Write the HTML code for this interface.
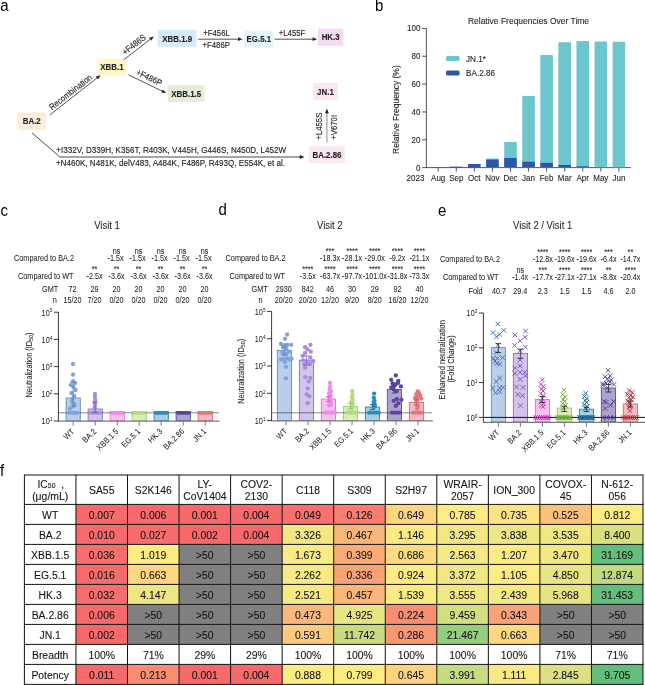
<!DOCTYPE html>
<html><head><meta charset="utf-8"><title>Figure</title>
<style>html,body{margin:0;padding:0;background:#fff;}svg{display:block;}</style></head>
<body><svg width="645" height="685" viewBox="0 0 645 685" font-family='"Liberation Sans", Arial, sans-serif'>
<rect width="645" height="685" fill="#fff"/>
<text transform="translate(0.30,10.80) scale(1,1.06)" font-size="15" fill="#000">a</text>
<text transform="translate(375.00,10.80) scale(1,1.06)" font-size="15" fill="#000">b</text>
<text transform="translate(0.40,215.50) scale(1,1.06)" font-size="15" fill="#000">c</text>
<text transform="translate(218.60,215.30) scale(1,1.06)" font-size="15" fill="#000">d</text>
<text transform="translate(438.00,215.60) scale(1,1.06)" font-size="15" fill="#000">e</text>
<text transform="translate(0.00,475.60) scale(1,1.06)" font-size="15" fill="#000">f</text>
<rect x="17.50" y="112.50" width="28.50" height="17.30" fill="#FDEEDB"/>
<text transform="translate(31.75,123.90) scale(1,1.12)" font-size="7.9" text-anchor="middle" font-weight="bold" fill="#231f20" stroke="#231f20" stroke-width="0.12">BA.2</text>
<rect x="97.80" y="58.90" width="28.20" height="16.70" fill="#FFF8C4"/>
<text transform="translate(111.90,69.80) scale(1,1.12)" font-size="7.9" text-anchor="middle" font-weight="bold" fill="#231f20" stroke="#231f20" stroke-width="0.12">XBB.1</text>
<rect x="157.90" y="29.80" width="38.60" height="17.10" fill="#D7EAF8"/>
<text transform="translate(177.20,42.00) scale(1,1.12)" font-size="7.9" text-anchor="middle" font-weight="bold" fill="#231f20" stroke="#231f20" stroke-width="0.12">XBB.1.9</text>
<rect x="167.90" y="85.10" width="36.60" height="16.80" fill="#E2EFD6"/>
<text transform="translate(186.20,96.90) scale(1,1.12)" font-size="7.9" text-anchor="middle" font-weight="bold" fill="#231f20" stroke="#231f20" stroke-width="0.12">XBB.1.5</text>
<rect x="244.10" y="30.80" width="29.50" height="16.70" fill="#E7F3FB"/>
<text transform="translate(258.85,42.00) scale(1,1.12)" font-size="7.9" text-anchor="middle" font-weight="bold" fill="#231f20" stroke="#231f20" stroke-width="0.12">EG.5.1</text>
<rect x="318.00" y="28.60" width="25.30" height="17.00" fill="#F4DAF4"/>
<text transform="translate(330.65,40.00) scale(1,1.12)" font-size="7.9" text-anchor="middle" font-weight="bold" fill="#231f20" stroke="#231f20" stroke-width="0.12">HK.3</text>
<rect x="312.80" y="82.90" width="25.30" height="17.00" fill="#FCE6F2"/>
<text transform="translate(325.45,94.50) scale(1,1.12)" font-size="7.9" text-anchor="middle" font-weight="bold" fill="#231f20" stroke="#231f20" stroke-width="0.12">JN.1</text>
<rect x="309.10" y="146.20" width="35.80" height="17.00" fill="#FCE6F2"/>
<text transform="translate(327.00,157.90) scale(1,1.12)" font-size="7.9" text-anchor="middle" font-weight="bold" fill="#231f20" stroke="#231f20" stroke-width="0.12">BA.2.86</text>
<line x1="49.90" y1="114.90" x2="97.27" y2="77.73" stroke="#2a2727" stroke-width="0.8"/>
<polygon points="100.50,75.20 98.05,79.53 95.71,76.54" fill="#2a2727"/>
<line x1="124.10" y1="59.60" x2="150.57" y2="38.92" stroke="#2a2727" stroke-width="0.8"/>
<polygon points="153.80,36.40 151.34,40.73 149.01,37.73" fill="#2a2727"/>
<line x1="128.60" y1="74.90" x2="162.51" y2="91.31" stroke="#2a2727" stroke-width="0.8"/>
<polygon points="166.20,93.10 161.23,92.81 162.89,89.39" fill="#2a2727"/>
<line x1="198.20" y1="39.20" x2="238.50" y2="39.20" stroke="#2a2727" stroke-width="0.8"/>
<polygon points="242.60,39.20 238.00,41.10 238.00,37.30" fill="#2a2727"/>
<line x1="274.50" y1="39.20" x2="313.10" y2="39.20" stroke="#2a2727" stroke-width="0.8"/>
<polygon points="317.20,39.20 312.60,41.10 312.60,37.30" fill="#2a2727"/>
<line x1="326.90" y1="142.50" x2="326.90" y2="112.00" stroke="#7a7a7a" stroke-width="0.9"/>
<line x1="326.90" y1="113.50" x2="326.90" y2="112.70" stroke="#222" stroke-width="0.8"/>
<polygon points="326.90,108.60 328.80,113.20 325.00,113.20" fill="#222"/>
<polyline points="32.1,132.9 59.9,157.0 300,157.0" fill="none" stroke="#2a2727" stroke-width="0.85"/>
<line x1="299.00" y1="157.00" x2="300.40" y2="157.00" stroke="#2a2727" stroke-width="0.8"/>
<polygon points="304.50,157.00 299.90,158.90 299.90,155.10" fill="#2a2727"/>
<text transform="translate(72.32,94.51) rotate(-38.12) scale(1,1.12)" font-size="7.8" text-anchor="middle" fill="#1f1d1d" stroke="#1f1d1d" stroke-width="0.12">Recombination</text>
<text transform="translate(135.74,46.95) rotate(-37.99) scale(1,1.12)" font-size="7.8" text-anchor="middle" fill="#1f1d1d" stroke="#1f1d1d" stroke-width="0.12">+F486S</text>
<text transform="translate(147.84,80.21) rotate(25.83) scale(1,1.12)" font-size="7.8" text-anchor="middle" fill="#1f1d1d" stroke="#1f1d1d" stroke-width="0.12">+F486P</text>
<text transform="translate(216.50,35.80) scale(1,1.12)" font-size="7.8" text-anchor="middle" fill="#1f1d1d" stroke="#1f1d1d" stroke-width="0.12">+F456L</text>
<text transform="translate(216.20,48.20) scale(1,1.12)" font-size="7.8" text-anchor="middle" fill="#1f1d1d" stroke="#1f1d1d" stroke-width="0.12">+F486P</text>
<text transform="translate(292.00,35.80) scale(1,1.12)" font-size="7.8" text-anchor="middle" fill="#1f1d1d" stroke="#1f1d1d" stroke-width="0.12">+L455F</text>
<text transform="translate(322.10,126.20) rotate(-90.00) scale(1,1.12)" font-size="7.8" text-anchor="middle" fill="#1f1d1d" stroke="#1f1d1d" stroke-width="0.12">+L455S</text>
<text transform="translate(337.10,127.40) rotate(-90.00) scale(1,1.12)" font-size="7.8" text-anchor="middle" fill="#1f1d1d" stroke="#1f1d1d" stroke-width="0.12">+V670I</text>
<text transform="translate(56.30,152.90) scale(1,1.12)" font-size="8.1" fill="#1f1d1d" stroke="#1f1d1d" stroke-width="0.12">+I332V, D339H, K356T, R403K, V445H, G446S, N450D, L452W</text>
<text transform="translate(55.90,165.90) scale(1,1.12)" font-size="8.1" fill="#1f1d1d" stroke="#1f1d1d" stroke-width="0.12">+N460K, N481K, delV483, A484K, F486P, R493Q, E554K, et al.</text>
<text transform="translate(528.50,24.00) scale(1,1.08)" font-size="8.5" text-anchor="middle" fill="#231f20" stroke="#231f20" stroke-width="0.1">Relative Frequencies Over Time</text>
<line x1="426.40" y1="28.30" x2="426.40" y2="168.00" stroke="#444" stroke-width="0.9"/>
<line x1="422.20" y1="167.60" x2="426.40" y2="167.60" stroke="#444" stroke-width="0.9"/>
<text transform="translate(420.40,170.50) scale(1,1.08)" font-size="8.0" text-anchor="end" fill="#231f20" stroke="#231f20" stroke-width="0.1">0</text>
<line x1="422.20" y1="139.77" x2="426.40" y2="139.77" stroke="#444" stroke-width="0.9"/>
<text transform="translate(420.40,142.67) scale(1,1.08)" font-size="8.0" text-anchor="end" fill="#231f20" stroke="#231f20" stroke-width="0.1">20</text>
<line x1="422.20" y1="111.94" x2="426.40" y2="111.94" stroke="#444" stroke-width="0.9"/>
<text transform="translate(420.40,114.84) scale(1,1.08)" font-size="8.0" text-anchor="end" fill="#231f20" stroke="#231f20" stroke-width="0.1">40</text>
<line x1="422.20" y1="84.11" x2="426.40" y2="84.11" stroke="#444" stroke-width="0.9"/>
<text transform="translate(420.40,87.01) scale(1,1.08)" font-size="8.0" text-anchor="end" fill="#231f20" stroke="#231f20" stroke-width="0.1">60</text>
<line x1="422.20" y1="56.28" x2="426.40" y2="56.28" stroke="#444" stroke-width="0.9"/>
<text transform="translate(420.40,59.18) scale(1,1.08)" font-size="8.0" text-anchor="end" fill="#231f20" stroke="#231f20" stroke-width="0.1">80</text>
<line x1="422.20" y1="28.45" x2="426.40" y2="28.45" stroke="#444" stroke-width="0.9"/>
<text transform="translate(420.40,31.35) scale(1,1.08)" font-size="8.0" text-anchor="end" fill="#231f20" stroke="#231f20" stroke-width="0.1">100</text>
<line x1="426.00" y1="167.60" x2="630.80" y2="167.60" stroke="#444" stroke-width="0.9"/>
<line x1="438.20" y1="167.60" x2="438.20" y2="171.60" stroke="#444" stroke-width="0.9"/>
<text transform="translate(438.20,181.40) scale(1,1.08)" font-size="8.0" text-anchor="middle" fill="#231f20" stroke="#231f20" stroke-width="0.1">Aug</text>
<rect x="431.90" y="167.39" width="12.60" height="0.21" fill="#2F56A6"/>
<line x1="456.27" y1="167.60" x2="456.27" y2="171.60" stroke="#444" stroke-width="0.9"/>
<text transform="translate(456.27,181.40) scale(1,1.08)" font-size="8.0" text-anchor="middle" fill="#231f20" stroke="#231f20" stroke-width="0.1">Sep</text>
<rect x="449.97" y="166.63" width="12.60" height="0.97" fill="#2F56A6"/>
<line x1="474.34" y1="167.60" x2="474.34" y2="171.60" stroke="#444" stroke-width="0.9"/>
<text transform="translate(474.34,181.40) scale(1,1.08)" font-size="8.0" text-anchor="middle" fill="#231f20" stroke="#231f20" stroke-width="0.1">Oct</text>
<rect x="468.04" y="163.98" width="12.60" height="3.62" fill="#2F56A6"/>
<line x1="492.41" y1="167.60" x2="492.41" y2="171.60" stroke="#444" stroke-width="0.9"/>
<text transform="translate(492.41,181.40) scale(1,1.08)" font-size="8.0" text-anchor="middle" fill="#231f20" stroke="#231f20" stroke-width="0.1">Nov</text>
<path d="M486.11,167.60 V159.42 q0,-1 1,-1 H497.71 q1,0 1,1 V167.60 Z" fill="#6CC6CD"/>
<rect x="486.11" y="159.53" width="12.60" height="8.07" fill="#2F56A6"/>
<line x1="510.48" y1="167.60" x2="510.48" y2="171.60" stroke="#444" stroke-width="0.9"/>
<text transform="translate(510.48,181.40) scale(1,1.08)" font-size="8.0" text-anchor="middle" fill="#231f20" stroke="#231f20" stroke-width="0.1">Dec</text>
<path d="M504.18,167.60 V143.00 q0,-1 1,-1 H515.78 q1,0 1,1 V167.60 Z" fill="#6CC6CD"/>
<rect x="504.18" y="158.00" width="12.60" height="9.60" fill="#2F56A6"/>
<line x1="528.55" y1="167.60" x2="528.55" y2="171.60" stroke="#444" stroke-width="0.9"/>
<text transform="translate(528.55,181.40) scale(1,1.08)" font-size="8.0" text-anchor="middle" fill="#231f20" stroke="#231f20" stroke-width="0.1">Jan</text>
<path d="M522.25,167.60 V96.94 q0,-1 1,-1 H533.85 q1,0 1,1 V167.60 Z" fill="#6CC6CD"/>
<rect x="522.25" y="161.76" width="12.60" height="5.84" fill="#2F56A6"/>
<line x1="546.62" y1="167.60" x2="546.62" y2="171.60" stroke="#444" stroke-width="0.9"/>
<text transform="translate(546.62,181.40) scale(1,1.08)" font-size="8.0" text-anchor="middle" fill="#231f20" stroke="#231f20" stroke-width="0.1">Feb</text>
<path d="M540.32,167.60 V55.89 q0,-1 1,-1 H551.92 q1,0 1,1 V167.60 Z" fill="#6CC6CD"/>
<rect x="540.32" y="162.87" width="12.60" height="4.73" fill="#2F56A6"/>
<line x1="564.69" y1="167.60" x2="564.69" y2="171.60" stroke="#444" stroke-width="0.9"/>
<text transform="translate(564.69,181.40) scale(1,1.08)" font-size="8.0" text-anchor="middle" fill="#231f20" stroke="#231f20" stroke-width="0.1">Mar</text>
<path d="M558.39,167.60 V43.36 q0,-1 1,-1 H569.99 q1,0 1,1 V167.60 Z" fill="#6CC6CD"/>
<rect x="558.39" y="164.96" width="12.60" height="2.64" fill="#2F56A6"/>
<line x1="582.76" y1="167.60" x2="582.76" y2="171.60" stroke="#444" stroke-width="0.9"/>
<text transform="translate(582.76,181.40) scale(1,1.08)" font-size="8.0" text-anchor="middle" fill="#231f20" stroke="#231f20" stroke-width="0.1">Apr</text>
<path d="M576.46,167.60 V41.97 q0,-1 1,-1 H588.06 q1,0 1,1 V167.60 Z" fill="#6CC6CD"/>
<rect x="576.46" y="166.35" width="12.60" height="1.25" fill="#2F56A6"/>
<line x1="600.83" y1="167.60" x2="600.83" y2="171.60" stroke="#444" stroke-width="0.9"/>
<text transform="translate(600.83,181.40) scale(1,1.08)" font-size="8.0" text-anchor="middle" fill="#231f20" stroke="#231f20" stroke-width="0.1">May</text>
<path d="M594.53,167.60 V42.53 q0,-1 1,-1 H606.13 q1,0 1,1 V167.60 Z" fill="#6CC6CD"/>
<rect x="594.53" y="167.18" width="12.60" height="0.42" fill="#2F56A6"/>
<line x1="618.90" y1="167.60" x2="618.90" y2="171.60" stroke="#444" stroke-width="0.9"/>
<text transform="translate(618.90,181.40) scale(1,1.08)" font-size="8.0" text-anchor="middle" fill="#231f20" stroke="#231f20" stroke-width="0.1">Jun</text>
<path d="M612.60,167.60 V42.81 q0,-1 1,-1 H624.20 q1,0 1,1 V167.60 Z" fill="#6CC6CD"/>
<rect x="612.60" y="167.39" width="12.60" height="0.21" fill="#2F56A6"/>
<text transform="translate(415.50,181.40) scale(1,1.08)" font-size="8.0" text-anchor="middle" fill="#231f20" stroke="#231f20" stroke-width="0.1">2023</text>
<text transform="translate(398.60,109.60) rotate(-90.00) scale(1,1.08)" font-size="8.5" text-anchor="middle" fill="#231f20" stroke="#231f20" stroke-width="0.1">Relative Frequency (%)</text>
<rect x="446" y="56" width="13.6" height="5" rx="1.5" fill="#6CC6CD"/>
<rect x="446" y="70.6" width="13.6" height="4.8" rx="1.5" fill="#2F56A6"/>
<text transform="translate(466.00,61.90) scale(1,1.08)" font-size="8.2" fill="#231f20" stroke="#231f20" stroke-width="0.1">JN.1*</text>
<text transform="translate(466.00,76.20) scale(1,1.08)" font-size="8.2" fill="#231f20" stroke="#231f20" stroke-width="0.1">BA.2.86</text>
<text transform="translate(107.00,229.00) scale(1,1.06)" font-size="9.5" text-anchor="middle" fill="#1a1a1a" stroke="#1a1a1a" stroke-width="0.03">Visit 1</text>
<text transform="translate(14.00,260.70) scale(1,1.2)" font-size="7.3" fill="#1a1a1a" stroke="#1a1a1a" stroke-width="0.03">Compared to BA.2</text>
<text transform="translate(18.00,278.60) scale(1,1.2)" font-size="7.3" fill="#1a1a1a" stroke="#1a1a1a" stroke-width="0.03">Compared to WT</text>
<text transform="translate(58.20,291.90) scale(1,1.2)" font-size="7.3" text-anchor="end" fill="#1a1a1a" stroke="#1a1a1a" stroke-width="0.03">GMT</text>
<text transform="translate(56.80,302.50) scale(1,1.2)" font-size="7.3" text-anchor="end" fill="#1a1a1a" stroke="#1a1a1a" stroke-width="0.03">n</text>
<text transform="translate(116.60,253.70) scale(1,1.2)" font-size="7.2" text-anchor="middle" fill="#1a1a1a" stroke="#1a1a1a" stroke-width="0.03">ns</text>
<text transform="translate(138.60,253.70) scale(1,1.2)" font-size="7.2" text-anchor="middle" fill="#1a1a1a" stroke="#1a1a1a" stroke-width="0.03">ns</text>
<text transform="translate(160.60,253.70) scale(1,1.2)" font-size="7.2" text-anchor="middle" fill="#1a1a1a" stroke="#1a1a1a" stroke-width="0.03">ns</text>
<text transform="translate(182.60,253.70) scale(1,1.2)" font-size="7.2" text-anchor="middle" fill="#1a1a1a" stroke="#1a1a1a" stroke-width="0.03">ns</text>
<text transform="translate(204.60,253.70) scale(1,1.2)" font-size="7.2" text-anchor="middle" fill="#1a1a1a" stroke="#1a1a1a" stroke-width="0.03">ns</text>
<text transform="translate(115.50,260.70) scale(1,1.2)" font-size="7.2" text-anchor="middle" fill="#1a1a1a" stroke="#1a1a1a" stroke-width="0.03">-1.5x</text>
<text transform="translate(137.50,260.70) scale(1,1.2)" font-size="7.2" text-anchor="middle" fill="#1a1a1a" stroke="#1a1a1a" stroke-width="0.03">-1.5x</text>
<text transform="translate(159.50,260.70) scale(1,1.2)" font-size="7.2" text-anchor="middle" fill="#1a1a1a" stroke="#1a1a1a" stroke-width="0.03">-1.5x</text>
<text transform="translate(181.50,260.70) scale(1,1.2)" font-size="7.2" text-anchor="middle" fill="#1a1a1a" stroke="#1a1a1a" stroke-width="0.03">-1.5x</text>
<text transform="translate(203.50,260.70) scale(1,1.2)" font-size="7.2" text-anchor="middle" fill="#1a1a1a" stroke="#1a1a1a" stroke-width="0.03">-1.5x</text>
<text transform="translate(94.60,272.00) scale(1,1.2)" font-size="7.2" text-anchor="middle" fill="#1a1a1a" stroke="#1a1a1a" stroke-width="0.03">**</text>
<text transform="translate(116.60,272.00) scale(1,1.2)" font-size="7.2" text-anchor="middle" fill="#1a1a1a" stroke="#1a1a1a" stroke-width="0.03">**</text>
<text transform="translate(138.60,272.00) scale(1,1.2)" font-size="7.2" text-anchor="middle" fill="#1a1a1a" stroke="#1a1a1a" stroke-width="0.03">**</text>
<text transform="translate(160.60,272.00) scale(1,1.2)" font-size="7.2" text-anchor="middle" fill="#1a1a1a" stroke="#1a1a1a" stroke-width="0.03">**</text>
<text transform="translate(182.60,272.00) scale(1,1.2)" font-size="7.2" text-anchor="middle" fill="#1a1a1a" stroke="#1a1a1a" stroke-width="0.03">**</text>
<text transform="translate(204.60,272.00) scale(1,1.2)" font-size="7.2" text-anchor="middle" fill="#1a1a1a" stroke="#1a1a1a" stroke-width="0.03">**</text>
<text transform="translate(94.60,278.60) scale(1,1.2)" font-size="7.2" text-anchor="middle" fill="#1a1a1a" stroke="#1a1a1a" stroke-width="0.03">-2.5x</text>
<text transform="translate(116.60,278.60) scale(1,1.2)" font-size="7.2" text-anchor="middle" fill="#1a1a1a" stroke="#1a1a1a" stroke-width="0.03">-3.6x</text>
<text transform="translate(138.60,278.60) scale(1,1.2)" font-size="7.2" text-anchor="middle" fill="#1a1a1a" stroke="#1a1a1a" stroke-width="0.03">-3.6x</text>
<text transform="translate(160.60,278.60) scale(1,1.2)" font-size="7.2" text-anchor="middle" fill="#1a1a1a" stroke="#1a1a1a" stroke-width="0.03">-3.6x</text>
<text transform="translate(182.60,278.60) scale(1,1.2)" font-size="7.2" text-anchor="middle" fill="#1a1a1a" stroke="#1a1a1a" stroke-width="0.03">-3.6x</text>
<text transform="translate(204.60,278.60) scale(1,1.2)" font-size="7.2" text-anchor="middle" fill="#1a1a1a" stroke="#1a1a1a" stroke-width="0.03">-3.6x</text>
<text transform="translate(72.60,291.90) scale(1,1.2)" font-size="7.2" text-anchor="middle" fill="#1a1a1a" stroke="#1a1a1a" stroke-width="0.03">72</text>
<text transform="translate(94.60,291.90) scale(1,1.2)" font-size="7.2" text-anchor="middle" fill="#1a1a1a" stroke="#1a1a1a" stroke-width="0.03">29</text>
<text transform="translate(116.60,291.90) scale(1,1.2)" font-size="7.2" text-anchor="middle" fill="#1a1a1a" stroke="#1a1a1a" stroke-width="0.03">20</text>
<text transform="translate(138.60,291.90) scale(1,1.2)" font-size="7.2" text-anchor="middle" fill="#1a1a1a" stroke="#1a1a1a" stroke-width="0.03">20</text>
<text transform="translate(160.60,291.90) scale(1,1.2)" font-size="7.2" text-anchor="middle" fill="#1a1a1a" stroke="#1a1a1a" stroke-width="0.03">20</text>
<text transform="translate(182.60,291.90) scale(1,1.2)" font-size="7.2" text-anchor="middle" fill="#1a1a1a" stroke="#1a1a1a" stroke-width="0.03">20</text>
<text transform="translate(204.60,291.90) scale(1,1.2)" font-size="7.2" text-anchor="middle" fill="#1a1a1a" stroke="#1a1a1a" stroke-width="0.03">20</text>
<text transform="translate(72.60,302.50) scale(1,1.2)" font-size="7.2" text-anchor="middle" fill="#1a1a1a" stroke="#1a1a1a" stroke-width="0.03">15/20</text>
<text transform="translate(94.60,302.50) scale(1,1.2)" font-size="7.2" text-anchor="middle" fill="#1a1a1a" stroke="#1a1a1a" stroke-width="0.03">7/20</text>
<text transform="translate(116.60,302.50) scale(1,1.2)" font-size="7.2" text-anchor="middle" fill="#1a1a1a" stroke="#1a1a1a" stroke-width="0.03">0/20</text>
<text transform="translate(138.60,302.50) scale(1,1.2)" font-size="7.2" text-anchor="middle" fill="#1a1a1a" stroke="#1a1a1a" stroke-width="0.03">0/20</text>
<text transform="translate(160.60,302.50) scale(1,1.2)" font-size="7.2" text-anchor="middle" fill="#1a1a1a" stroke="#1a1a1a" stroke-width="0.03">0/20</text>
<text transform="translate(182.60,302.50) scale(1,1.2)" font-size="7.2" text-anchor="middle" fill="#1a1a1a" stroke="#1a1a1a" stroke-width="0.03">0/20</text>
<text transform="translate(204.60,302.50) scale(1,1.2)" font-size="7.2" text-anchor="middle" fill="#1a1a1a" stroke="#1a1a1a" stroke-width="0.03">0/20</text>
<line x1="58.40" y1="312.00" x2="58.40" y2="421.60" stroke="#222" stroke-width="0.9"/>
<line x1="53.80" y1="312.20" x2="58.40" y2="312.20" stroke="#222" stroke-width="0.9"/>
<text x="52.40" y="315.70" font-size="8.5" text-anchor="end" fill="#1a1a1a" transform="translate(52.40,0) scale(0.86,1) translate(-52.40,0)">10<tspan font-size="5.6" dy="-3.2">5</tspan></text>
<line x1="53.80" y1="339.40" x2="58.40" y2="339.40" stroke="#222" stroke-width="0.9"/>
<text x="52.40" y="342.90" font-size="8.5" text-anchor="end" fill="#1a1a1a" transform="translate(52.40,0) scale(0.86,1) translate(-52.40,0)">10<tspan font-size="5.6" dy="-3.2">4</tspan></text>
<line x1="53.80" y1="366.60" x2="58.40" y2="366.60" stroke="#222" stroke-width="0.9"/>
<text x="52.40" y="370.10" font-size="8.5" text-anchor="end" fill="#1a1a1a" transform="translate(52.40,0) scale(0.86,1) translate(-52.40,0)">10<tspan font-size="5.6" dy="-3.2">3</tspan></text>
<line x1="53.80" y1="393.80" x2="58.40" y2="393.80" stroke="#222" stroke-width="0.9"/>
<text x="52.40" y="397.30" font-size="8.5" text-anchor="end" fill="#1a1a1a" transform="translate(52.40,0) scale(0.86,1) translate(-52.40,0)">10<tspan font-size="5.6" dy="-3.2">2</tspan></text>
<line x1="53.80" y1="421.00" x2="58.40" y2="421.00" stroke="#222" stroke-width="0.9"/>
<text x="52.40" y="424.50" font-size="8.5" text-anchor="end" fill="#1a1a1a" transform="translate(52.40,0) scale(0.86,1) translate(-52.40,0)">10<tspan font-size="5.6" dy="-3.2">1</tspan></text>
<rect x="66.10" y="398.00" width="14.2" height="22.80" fill="#BACDEB" stroke="#5B7FC0" stroke-width="0.8"/>
<rect x="88.10" y="409.00" width="14.2" height="11.80" fill="#D3C4EB" stroke="#8062BC" stroke-width="0.8"/>
<rect x="110.10" y="411.40" width="14.2" height="9.40" fill="#F7C2F2" stroke="#D467CC" stroke-width="0.8"/>
<rect x="132.10" y="411.40" width="14.2" height="9.40" fill="#D9EDBB" stroke="#8CC55C" stroke-width="0.8"/>
<rect x="154.10" y="411.40" width="14.2" height="9.40" fill="#A3D0E2" stroke="#21739A" stroke-width="0.8"/>
<rect x="176.10" y="411.40" width="14.2" height="9.40" fill="#ADA1CE" stroke="#4D3B8E" stroke-width="0.8"/>
<rect x="198.10" y="411.40" width="14.2" height="9.40" fill="#F4BCC1" stroke="#CF5D68" stroke-width="0.8"/>
<line x1="59.40" y1="412.80" x2="218.60" y2="412.80" stroke="#111" stroke-width="1.0" stroke-dasharray="1,1"/>
<rect x="66.60" y="410.90" width="13.40" height="3.8" rx="1.9" fill="#7EA3DC"/>
<circle cx="73.00" cy="364.00" r="2.15" fill="#7EA3DC"/>
<circle cx="73.00" cy="374.70" r="2.15" fill="#7EA3DC"/>
<circle cx="73.00" cy="381.20" r="2.15" fill="#7EA3DC"/>
<circle cx="75.10" cy="383.00" r="2.15" fill="#7EA3DC"/>
<circle cx="70.80" cy="385.20" r="2.15" fill="#7EA3DC"/>
<circle cx="73.40" cy="386.90" r="2.15" fill="#7EA3DC"/>
<circle cx="74.30" cy="396.10" r="2.15" fill="#7EA3DC"/>
<circle cx="73.00" cy="398.30" r="2.15" fill="#7EA3DC"/>
<circle cx="72.10" cy="401.00" r="2.15" fill="#7EA3DC"/>
<circle cx="73.40" cy="403.60" r="2.15" fill="#7EA3DC"/>
<circle cx="73.40" cy="406.60" r="2.15" fill="#7EA3DC"/>
<circle cx="69.90" cy="408.80" r="2.15" fill="#7EA3DC"/>
<circle cx="75.50" cy="390.00" r="2.15" fill="#7EA3DC"/>
<circle cx="71.50" cy="393.00" r="2.15" fill="#7EA3DC"/>
<circle cx="74.80" cy="404.50" r="2.15" fill="#7EA3DC"/>
<rect x="88.40" y="410.90" width="13.60" height="3.8" rx="1.9" fill="#A98CDB"/>
<circle cx="94.90" cy="393.90" r="2.15" fill="#A98CDB"/>
<circle cx="94.90" cy="397.00" r="2.15" fill="#A98CDB"/>
<circle cx="95.30" cy="400.00" r="2.15" fill="#A98CDB"/>
<circle cx="94.60" cy="402.50" r="2.15" fill="#A98CDB"/>
<circle cx="95.20" cy="405.00" r="2.15" fill="#A98CDB"/>
<circle cx="94.70" cy="407.50" r="2.15" fill="#A98CDB"/>
<circle cx="95.00" cy="409.00" r="2.15" fill="#A98CDB"/>
<rect x="110.00" y="410.91" width="14.4" height="3.8" rx="1.9" fill="#EE8BE6"/>
<rect x="132.00" y="410.91" width="14.4" height="3.8" rx="1.9" fill="#B2DC7E"/>
<rect x="154.00" y="410.91" width="14.4" height="3.8" rx="1.9" fill="#2A8CB4"/>
<rect x="176.00" y="410.91" width="14.4" height="3.8" rx="1.9" fill="#5C449C"/>
<rect x="198.00" y="410.91" width="14.4" height="3.8" rx="1.9" fill="#E2787F"/>
<line x1="73.20" y1="382.40" x2="73.20" y2="406.00" stroke="#5B7FC0" stroke-width="0.8"/>
<line x1="70.40" y1="382.40" x2="76.00" y2="382.40" stroke="#5B7FC0" stroke-width="0.9"/>
<line x1="70.40" y1="406.00" x2="76.00" y2="406.00" stroke="#5B7FC0" stroke-width="0.9"/>
<line x1="95.20" y1="402.30" x2="95.20" y2="412.50" stroke="#8062BC" stroke-width="0.8"/>
<line x1="92.40" y1="402.30" x2="98.00" y2="402.30" stroke="#8062BC" stroke-width="0.9"/>
<line x1="92.40" y1="412.50" x2="98.00" y2="412.50" stroke="#8062BC" stroke-width="0.9"/>
<line x1="58.40" y1="421.20" x2="219.60" y2="421.20" stroke="#7a7a7a" stroke-width="1.2"/>
<line x1="73.20" y1="421.20" x2="73.20" y2="425.60" stroke="#7a7a7a" stroke-width="1.0"/>
<text transform="translate(74.80,432.00) rotate(-45.00) scale(1,1.12)" font-size="7.3" text-anchor="end" fill="#1a1a1a" stroke="#1a1a1a" stroke-width="0.03">WT</text>
<line x1="95.20" y1="421.20" x2="95.20" y2="425.60" stroke="#7a7a7a" stroke-width="1.0"/>
<text transform="translate(96.80,432.00) rotate(-45.00) scale(1,1.12)" font-size="7.3" text-anchor="end" fill="#1a1a1a" stroke="#1a1a1a" stroke-width="0.03">BA.2</text>
<line x1="117.20" y1="421.20" x2="117.20" y2="425.60" stroke="#7a7a7a" stroke-width="1.0"/>
<text transform="translate(118.80,432.00) rotate(-45.00) scale(1,1.12)" font-size="7.3" text-anchor="end" fill="#1a1a1a" stroke="#1a1a1a" stroke-width="0.03">XBB.1.5</text>
<line x1="139.20" y1="421.20" x2="139.20" y2="425.60" stroke="#7a7a7a" stroke-width="1.0"/>
<text transform="translate(140.80,432.00) rotate(-45.00) scale(1,1.12)" font-size="7.3" text-anchor="end" fill="#1a1a1a" stroke="#1a1a1a" stroke-width="0.03">EG.5.1</text>
<line x1="161.20" y1="421.20" x2="161.20" y2="425.60" stroke="#7a7a7a" stroke-width="1.0"/>
<text transform="translate(162.80,432.00) rotate(-45.00) scale(1,1.12)" font-size="7.3" text-anchor="end" fill="#1a1a1a" stroke="#1a1a1a" stroke-width="0.03">HK.3</text>
<line x1="183.20" y1="421.20" x2="183.20" y2="425.60" stroke="#7a7a7a" stroke-width="1.0"/>
<text transform="translate(184.80,432.00) rotate(-45.00) scale(1,1.12)" font-size="7.3" text-anchor="end" fill="#1a1a1a" stroke="#1a1a1a" stroke-width="0.03">BA.2.86</text>
<line x1="205.20" y1="421.20" x2="205.20" y2="425.60" stroke="#7a7a7a" stroke-width="1.0"/>
<text transform="translate(206.80,432.00) rotate(-45.00) scale(1,1.12)" font-size="7.3" text-anchor="end" fill="#1a1a1a" stroke="#1a1a1a" stroke-width="0.03">JN.1</text>
<text transform="translate(31.60,365.00) rotate(-90.00) scale(1,1.12)" font-size="7.3" text-anchor="middle" fill="#1a1a1a" stroke="#1a1a1a" stroke-width="0.03">Neutralization (ID<tspan font-size="5.4" dy="1.5">50</tspan><tspan dy="-1.5">)</tspan></text>
<text transform="translate(329.80,229.00) scale(1,1.06)" font-size="9.5" text-anchor="middle" fill="#1a1a1a" stroke="#1a1a1a" stroke-width="0.03">Visit 2</text>
<text transform="translate(225.60,260.70) scale(1,1.2)" font-size="7.3" fill="#1a1a1a" stroke="#1a1a1a" stroke-width="0.03">Compared to BA.2</text>
<text transform="translate(229.60,278.60) scale(1,1.2)" font-size="7.3" fill="#1a1a1a" stroke="#1a1a1a" stroke-width="0.03">Compared to WT</text>
<text transform="translate(267.80,291.90) scale(1,1.2)" font-size="7.3" text-anchor="end" fill="#1a1a1a" stroke="#1a1a1a" stroke-width="0.03">GMT</text>
<text transform="translate(262.60,302.50) scale(1,1.2)" font-size="7.3" text-anchor="end" fill="#1a1a1a" stroke="#1a1a1a" stroke-width="0.03">n</text>
<text transform="translate(330.00,253.60) scale(1,1.2)" font-size="7.2" text-anchor="middle" fill="#1a1a1a" stroke="#1a1a1a" stroke-width="0.03">***</text>
<text transform="translate(352.10,253.60) scale(1,1.2)" font-size="7.2" text-anchor="middle" fill="#1a1a1a" stroke="#1a1a1a" stroke-width="0.03">****</text>
<text transform="translate(374.80,253.60) scale(1,1.2)" font-size="7.2" text-anchor="middle" fill="#1a1a1a" stroke="#1a1a1a" stroke-width="0.03">****</text>
<text transform="translate(397.40,253.60) scale(1,1.2)" font-size="7.2" text-anchor="middle" fill="#1a1a1a" stroke="#1a1a1a" stroke-width="0.03">****</text>
<text transform="translate(419.40,253.60) scale(1,1.2)" font-size="7.2" text-anchor="middle" fill="#1a1a1a" stroke="#1a1a1a" stroke-width="0.03">****</text>
<text transform="translate(330.00,260.70) scale(1,1.2)" font-size="7.2" text-anchor="middle" fill="#1a1a1a" stroke="#1a1a1a" stroke-width="0.03">-18.3x</text>
<text transform="translate(352.10,260.70) scale(1,1.2)" font-size="7.2" text-anchor="middle" fill="#1a1a1a" stroke="#1a1a1a" stroke-width="0.03">-28.1x</text>
<text transform="translate(374.80,260.70) scale(1,1.2)" font-size="7.2" text-anchor="middle" fill="#1a1a1a" stroke="#1a1a1a" stroke-width="0.03">-29.0x</text>
<text transform="translate(397.40,260.70) scale(1,1.2)" font-size="7.2" text-anchor="middle" fill="#1a1a1a" stroke="#1a1a1a" stroke-width="0.03">-9.2x</text>
<text transform="translate(419.40,260.70) scale(1,1.2)" font-size="7.2" text-anchor="middle" fill="#1a1a1a" stroke="#1a1a1a" stroke-width="0.03">-21.1x</text>
<text transform="translate(307.80,272.00) scale(1,1.2)" font-size="7.2" text-anchor="middle" fill="#1a1a1a" stroke="#1a1a1a" stroke-width="0.03">****</text>
<text transform="translate(330.00,272.00) scale(1,1.2)" font-size="7.2" text-anchor="middle" fill="#1a1a1a" stroke="#1a1a1a" stroke-width="0.03">****</text>
<text transform="translate(352.10,272.00) scale(1,1.2)" font-size="7.2" text-anchor="middle" fill="#1a1a1a" stroke="#1a1a1a" stroke-width="0.03">****</text>
<text transform="translate(374.80,272.00) scale(1,1.2)" font-size="7.2" text-anchor="middle" fill="#1a1a1a" stroke="#1a1a1a" stroke-width="0.03">****</text>
<text transform="translate(397.40,272.00) scale(1,1.2)" font-size="7.2" text-anchor="middle" fill="#1a1a1a" stroke="#1a1a1a" stroke-width="0.03">****</text>
<text transform="translate(419.40,272.00) scale(1,1.2)" font-size="7.2" text-anchor="middle" fill="#1a1a1a" stroke="#1a1a1a" stroke-width="0.03">****</text>
<text transform="translate(307.80,278.60) scale(1,1.2)" font-size="7.2" text-anchor="middle" fill="#1a1a1a" stroke="#1a1a1a" stroke-width="0.03">-3.5x</text>
<text transform="translate(330.00,278.60) scale(1,1.2)" font-size="7.2" text-anchor="middle" fill="#1a1a1a" stroke="#1a1a1a" stroke-width="0.03">-63.7x</text>
<text transform="translate(352.10,278.60) scale(1,1.2)" font-size="7.2" text-anchor="middle" fill="#1a1a1a" stroke="#1a1a1a" stroke-width="0.03">-97.7x</text>
<text transform="translate(374.80,278.60) scale(1,1.2)" font-size="7.2" text-anchor="middle" fill="#1a1a1a" stroke="#1a1a1a" stroke-width="0.03">-101.0x</text>
<text transform="translate(397.40,278.60) scale(1,1.2)" font-size="7.2" text-anchor="middle" fill="#1a1a1a" stroke="#1a1a1a" stroke-width="0.03">-31.8x</text>
<text transform="translate(419.40,278.60) scale(1,1.2)" font-size="7.2" text-anchor="middle" fill="#1a1a1a" stroke="#1a1a1a" stroke-width="0.03">-73.3x</text>
<text transform="translate(283.80,291.90) scale(1,1.2)" font-size="7.2" text-anchor="middle" fill="#1a1a1a" stroke="#1a1a1a" stroke-width="0.03">2930</text>
<text transform="translate(307.80,291.90) scale(1,1.2)" font-size="7.2" text-anchor="middle" fill="#1a1a1a" stroke="#1a1a1a" stroke-width="0.03">842</text>
<text transform="translate(330.00,291.90) scale(1,1.2)" font-size="7.2" text-anchor="middle" fill="#1a1a1a" stroke="#1a1a1a" stroke-width="0.03">46</text>
<text transform="translate(352.10,291.90) scale(1,1.2)" font-size="7.2" text-anchor="middle" fill="#1a1a1a" stroke="#1a1a1a" stroke-width="0.03">30</text>
<text transform="translate(374.80,291.90) scale(1,1.2)" font-size="7.2" text-anchor="middle" fill="#1a1a1a" stroke="#1a1a1a" stroke-width="0.03">29</text>
<text transform="translate(397.40,291.90) scale(1,1.2)" font-size="7.2" text-anchor="middle" fill="#1a1a1a" stroke="#1a1a1a" stroke-width="0.03">92</text>
<text transform="translate(419.40,291.90) scale(1,1.2)" font-size="7.2" text-anchor="middle" fill="#1a1a1a" stroke="#1a1a1a" stroke-width="0.03">40</text>
<text transform="translate(283.80,302.50) scale(1,1.2)" font-size="7.2" text-anchor="middle" fill="#1a1a1a" stroke="#1a1a1a" stroke-width="0.03">20/20</text>
<text transform="translate(307.80,302.50) scale(1,1.2)" font-size="7.2" text-anchor="middle" fill="#1a1a1a" stroke="#1a1a1a" stroke-width="0.03">20/20</text>
<text transform="translate(330.00,302.50) scale(1,1.2)" font-size="7.2" text-anchor="middle" fill="#1a1a1a" stroke="#1a1a1a" stroke-width="0.03">12/20</text>
<text transform="translate(352.10,302.50) scale(1,1.2)" font-size="7.2" text-anchor="middle" fill="#1a1a1a" stroke="#1a1a1a" stroke-width="0.03">9/20</text>
<text transform="translate(374.80,302.50) scale(1,1.2)" font-size="7.2" text-anchor="middle" fill="#1a1a1a" stroke="#1a1a1a" stroke-width="0.03">8/20</text>
<text transform="translate(397.40,302.50) scale(1,1.2)" font-size="7.2" text-anchor="middle" fill="#1a1a1a" stroke="#1a1a1a" stroke-width="0.03">16/20</text>
<text transform="translate(419.40,302.50) scale(1,1.2)" font-size="7.2" text-anchor="middle" fill="#1a1a1a" stroke="#1a1a1a" stroke-width="0.03">12/20</text>
<line x1="271.60" y1="311.40" x2="271.60" y2="421.20" stroke="#222" stroke-width="0.9"/>
<line x1="267.00" y1="311.40" x2="271.60" y2="311.40" stroke="#222" stroke-width="0.9"/>
<text x="265.60" y="314.90" font-size="8.5" text-anchor="end" fill="#1a1a1a" transform="translate(265.60,0) scale(0.86,1) translate(-265.60,0)">10<tspan font-size="5.6" dy="-3.2">5</tspan></text>
<line x1="267.00" y1="338.70" x2="271.60" y2="338.70" stroke="#222" stroke-width="0.9"/>
<text x="265.60" y="342.20" font-size="8.5" text-anchor="end" fill="#1a1a1a" transform="translate(265.60,0) scale(0.86,1) translate(-265.60,0)">10<tspan font-size="5.6" dy="-3.2">4</tspan></text>
<line x1="267.00" y1="366.00" x2="271.60" y2="366.00" stroke="#222" stroke-width="0.9"/>
<text x="265.60" y="369.50" font-size="8.5" text-anchor="end" fill="#1a1a1a" transform="translate(265.60,0) scale(0.86,1) translate(-265.60,0)">10<tspan font-size="5.6" dy="-3.2">3</tspan></text>
<line x1="267.00" y1="393.30" x2="271.60" y2="393.30" stroke="#222" stroke-width="0.9"/>
<text x="265.60" y="396.80" font-size="8.5" text-anchor="end" fill="#1a1a1a" transform="translate(265.60,0) scale(0.86,1) translate(-265.60,0)">10<tspan font-size="5.6" dy="-3.2">2</tspan></text>
<line x1="267.00" y1="420.60" x2="271.60" y2="420.60" stroke="#222" stroke-width="0.9"/>
<text x="265.60" y="424.10" font-size="8.5" text-anchor="end" fill="#1a1a1a" transform="translate(265.60,0) scale(0.86,1) translate(-265.60,0)">10<tspan font-size="5.6" dy="-3.2">1</tspan></text>
<rect x="277.30" y="350.40" width="14.2" height="70.00" fill="#BACDEB" stroke="#5B7FC0" stroke-width="0.8"/>
<rect x="299.30" y="360.10" width="14.2" height="60.30" fill="#D3C4EB" stroke="#8062BC" stroke-width="0.8"/>
<rect x="321.30" y="399.00" width="14.2" height="21.40" fill="#F7C2F2" stroke="#D467CC" stroke-width="0.8"/>
<rect x="343.30" y="406.40" width="14.2" height="14.00" fill="#D9EDBB" stroke="#8CC55C" stroke-width="0.8"/>
<rect x="365.30" y="407.00" width="14.2" height="13.40" fill="#A3D0E2" stroke="#21739A" stroke-width="0.8"/>
<rect x="387.30" y="389.60" width="14.2" height="30.80" fill="#ADA1CE" stroke="#4D3B8E" stroke-width="0.8"/>
<rect x="409.30" y="402.40" width="14.2" height="18.00" fill="#F4BCC1" stroke="#CF5D68" stroke-width="0.8"/>
<line x1="272.60" y1="412.80" x2="432.00" y2="412.80" stroke="#111" stroke-width="1.0" stroke-dasharray="1,1"/>
<circle cx="287.10" cy="334.50" r="2.15" fill="#7EA3DC"/>
<circle cx="285.00" cy="338.80" r="2.15" fill="#7EA3DC"/>
<circle cx="281.00" cy="343.90" r="2.15" fill="#7EA3DC"/>
<circle cx="284.60" cy="345.20" r="2.15" fill="#7EA3DC"/>
<circle cx="287.50" cy="344.80" r="2.15" fill="#7EA3DC"/>
<circle cx="291.20" cy="344.80" r="2.15" fill="#7EA3DC"/>
<circle cx="283.00" cy="347.60" r="2.15" fill="#7EA3DC"/>
<circle cx="286.30" cy="348.40" r="2.15" fill="#7EA3DC"/>
<circle cx="288.70" cy="351.70" r="2.15" fill="#7EA3DC"/>
<circle cx="283.40" cy="354.20" r="2.15" fill="#7EA3DC"/>
<circle cx="285.90" cy="354.20" r="2.15" fill="#7EA3DC"/>
<circle cx="281.00" cy="359.50" r="2.15" fill="#7EA3DC"/>
<circle cx="283.80" cy="359.10" r="2.15" fill="#7EA3DC"/>
<circle cx="287.10" cy="358.30" r="2.15" fill="#7EA3DC"/>
<circle cx="291.60" cy="358.70" r="2.15" fill="#7EA3DC"/>
<circle cx="289.50" cy="359.50" r="2.15" fill="#7EA3DC"/>
<circle cx="285.00" cy="361.90" r="2.15" fill="#7EA3DC"/>
<circle cx="285.90" cy="366.80" r="2.15" fill="#7EA3DC"/>
<circle cx="285.90" cy="378.30" r="2.15" fill="#7EA3DC"/>
<circle cx="282.50" cy="352.00" r="2.15" fill="#7EA3DC"/>
<circle cx="310.40" cy="344.80" r="2.15" fill="#A98CDB"/>
<circle cx="305.10" cy="347.20" r="2.15" fill="#A98CDB"/>
<circle cx="307.50" cy="349.30" r="2.15" fill="#A98CDB"/>
<circle cx="310.80" cy="351.70" r="2.15" fill="#A98CDB"/>
<circle cx="305.10" cy="352.90" r="2.15" fill="#A98CDB"/>
<circle cx="302.60" cy="355.80" r="2.15" fill="#A98CDB"/>
<circle cx="310.40" cy="357.40" r="2.15" fill="#A98CDB"/>
<circle cx="303.40" cy="360.30" r="2.15" fill="#A98CDB"/>
<circle cx="307.50" cy="361.50" r="2.15" fill="#A98CDB"/>
<circle cx="313.20" cy="361.10" r="2.15" fill="#A98CDB"/>
<circle cx="310.00" cy="364.00" r="2.15" fill="#A98CDB"/>
<circle cx="305.10" cy="367.70" r="2.15" fill="#A98CDB"/>
<circle cx="305.30" cy="377.20" r="2.15" fill="#A98CDB"/>
<circle cx="310.40" cy="377.90" r="2.15" fill="#A98CDB"/>
<circle cx="308.80" cy="381.60" r="2.15" fill="#A98CDB"/>
<circle cx="307.80" cy="388.30" r="2.15" fill="#A98CDB"/>
<circle cx="306.70" cy="394.50" r="2.15" fill="#A98CDB"/>
<circle cx="309.40" cy="396.30" r="2.15" fill="#A98CDB"/>
<circle cx="307.80" cy="403.20" r="2.15" fill="#A98CDB"/>
<circle cx="304.50" cy="364.50" r="2.15" fill="#A98CDB"/>
<rect x="323.30" y="410.60" width="14.00" height="3.8" rx="1.9" fill="#EE8BE6"/>
<circle cx="329.90" cy="383.00" r="2.15" fill="#EE8BE6"/>
<circle cx="330.20" cy="386.60" r="2.15" fill="#EE8BE6"/>
<circle cx="329.60" cy="389.50" r="2.15" fill="#EE8BE6"/>
<circle cx="331.00" cy="391.50" r="2.15" fill="#EE8BE6"/>
<circle cx="329.00" cy="393.50" r="2.15" fill="#EE8BE6"/>
<circle cx="330.50" cy="395.50" r="2.15" fill="#EE8BE6"/>
<circle cx="329.20" cy="397.50" r="2.15" fill="#EE8BE6"/>
<circle cx="330.80" cy="399.50" r="2.15" fill="#EE8BE6"/>
<circle cx="329.50" cy="401.50" r="2.15" fill="#EE8BE6"/>
<circle cx="330.50" cy="403.50" r="2.15" fill="#EE8BE6"/>
<circle cx="331.20" cy="404.80" r="2.15" fill="#EE8BE6"/>
<circle cx="329.00" cy="405.50" r="2.15" fill="#EE8BE6"/>
<rect x="345.30" y="410.60" width="13.70" height="3.8" rx="1.9" fill="#B2DC7E"/>
<circle cx="352.30" cy="391.00" r="2.15" fill="#B2DC7E"/>
<circle cx="352.50" cy="394.80" r="2.15" fill="#B2DC7E"/>
<circle cx="351.80" cy="397.50" r="2.15" fill="#B2DC7E"/>
<circle cx="352.80" cy="399.80" r="2.15" fill="#B2DC7E"/>
<circle cx="351.50" cy="401.80" r="2.15" fill="#B2DC7E"/>
<circle cx="352.60" cy="403.60" r="2.15" fill="#B2DC7E"/>
<circle cx="351.90" cy="405.20" r="2.15" fill="#B2DC7E"/>
<circle cx="352.80" cy="406.50" r="2.15" fill="#B2DC7E"/>
<circle cx="351.50" cy="407.50" r="2.15" fill="#B2DC7E"/>
<rect x="367.10" y="410.80" width="13.80" height="3.8" rx="1.9" fill="#2A8CB4"/>
<circle cx="374.10" cy="393.60" r="2.15" fill="#2A8CB4"/>
<circle cx="373.80" cy="397.60" r="2.15" fill="#2A8CB4"/>
<circle cx="374.40" cy="400.50" r="2.15" fill="#2A8CB4"/>
<circle cx="373.60" cy="402.50" r="2.15" fill="#2A8CB4"/>
<circle cx="374.60" cy="403.80" r="2.15" fill="#2A8CB4"/>
<circle cx="373.50" cy="405.00" r="2.15" fill="#2A8CB4"/>
<circle cx="375.00" cy="406.00" r="2.15" fill="#2A8CB4"/>
<circle cx="373.80" cy="407.00" r="2.15" fill="#2A8CB4"/>
<rect x="389.60" y="410.80" width="11.80" height="3.8" rx="1.9" fill="#5C449C"/>
<circle cx="395.80" cy="375.40" r="2.15" fill="#5C449C"/>
<circle cx="391.20" cy="379.80" r="2.15" fill="#5C449C"/>
<circle cx="398.30" cy="380.80" r="2.15" fill="#5C449C"/>
<circle cx="392.70" cy="383.40" r="2.15" fill="#5C449C"/>
<circle cx="395.30" cy="384.40" r="2.15" fill="#5C449C"/>
<circle cx="400.90" cy="386.40" r="2.15" fill="#5C449C"/>
<circle cx="391.20" cy="387.40" r="2.15" fill="#5C449C"/>
<circle cx="393.70" cy="389.50" r="2.15" fill="#5C449C"/>
<circle cx="396.80" cy="391.00" r="2.15" fill="#5C449C"/>
<circle cx="393.70" cy="400.80" r="2.15" fill="#5C449C"/>
<circle cx="396.80" cy="399.20" r="2.15" fill="#5C449C"/>
<circle cx="401.40" cy="399.70" r="2.15" fill="#5C449C"/>
<circle cx="398.30" cy="403.30" r="2.15" fill="#5C449C"/>
<circle cx="395.80" cy="405.90" r="2.15" fill="#5C449C"/>
<circle cx="398.00" cy="383.00" r="2.15" fill="#5C449C"/>
<circle cx="394.00" cy="386.00" r="2.15" fill="#5C449C"/>
<rect x="411.10" y="410.80" width="13.30" height="3.8" rx="1.9" fill="#E2787F"/>
<circle cx="417.80" cy="391.30" r="2.15" fill="#E2787F"/>
<circle cx="416.20" cy="394.10" r="2.15" fill="#E2787F"/>
<circle cx="420.30" cy="395.60" r="2.15" fill="#E2787F"/>
<circle cx="415.20" cy="397.70" r="2.15" fill="#E2787F"/>
<circle cx="421.40" cy="398.70" r="2.15" fill="#E2787F"/>
<circle cx="417.30" cy="400.80" r="2.15" fill="#E2787F"/>
<circle cx="416.20" cy="403.30" r="2.15" fill="#E2787F"/>
<circle cx="417.80" cy="405.90" r="2.15" fill="#E2787F"/>
<circle cx="417.30" cy="408.40" r="2.15" fill="#E2787F"/>
<circle cx="419.00" cy="393.00" r="2.15" fill="#E2787F"/>
<circle cx="418.50" cy="397.00" r="2.15" fill="#E2787F"/>
<circle cx="415.80" cy="400.00" r="2.15" fill="#E2787F"/>
<line x1="284.40" y1="346.00" x2="284.40" y2="355.00" stroke="#5B7FC0" stroke-width="0.8"/>
<line x1="281.60" y1="346.00" x2="287.20" y2="346.00" stroke="#5B7FC0" stroke-width="0.9"/>
<line x1="281.60" y1="355.00" x2="287.20" y2="355.00" stroke="#5B7FC0" stroke-width="0.9"/>
<line x1="306.40" y1="356.00" x2="306.40" y2="365.00" stroke="#8062BC" stroke-width="0.8"/>
<line x1="303.60" y1="356.00" x2="309.20" y2="356.00" stroke="#8062BC" stroke-width="0.9"/>
<line x1="303.60" y1="365.00" x2="309.20" y2="365.00" stroke="#8062BC" stroke-width="0.9"/>
<line x1="328.40" y1="396.50" x2="328.40" y2="401.40" stroke="#D467CC" stroke-width="0.8"/>
<line x1="325.60" y1="396.50" x2="331.20" y2="396.50" stroke="#D467CC" stroke-width="0.9"/>
<line x1="325.60" y1="401.40" x2="331.20" y2="401.40" stroke="#D467CC" stroke-width="0.9"/>
<line x1="350.40" y1="403.00" x2="350.40" y2="409.00" stroke="#8CC55C" stroke-width="0.8"/>
<line x1="347.60" y1="403.00" x2="353.20" y2="403.00" stroke="#8CC55C" stroke-width="0.9"/>
<line x1="347.60" y1="409.00" x2="353.20" y2="409.00" stroke="#8CC55C" stroke-width="0.9"/>
<line x1="372.40" y1="404.50" x2="372.40" y2="409.50" stroke="#21739A" stroke-width="0.8"/>
<line x1="369.60" y1="404.50" x2="375.20" y2="404.50" stroke="#21739A" stroke-width="0.9"/>
<line x1="369.60" y1="409.50" x2="375.20" y2="409.50" stroke="#21739A" stroke-width="0.9"/>
<line x1="394.40" y1="386.00" x2="394.40" y2="393.00" stroke="#4D3B8E" stroke-width="0.8"/>
<line x1="391.60" y1="386.00" x2="397.20" y2="386.00" stroke="#4D3B8E" stroke-width="0.9"/>
<line x1="391.60" y1="393.00" x2="397.20" y2="393.00" stroke="#4D3B8E" stroke-width="0.9"/>
<line x1="416.40" y1="399.00" x2="416.40" y2="405.50" stroke="#CF5D68" stroke-width="0.8"/>
<line x1="413.60" y1="399.00" x2="419.20" y2="399.00" stroke="#CF5D68" stroke-width="0.9"/>
<line x1="413.60" y1="405.50" x2="419.20" y2="405.50" stroke="#CF5D68" stroke-width="0.9"/>
<line x1="271.60" y1="420.80" x2="433.00" y2="420.80" stroke="#7a7a7a" stroke-width="1.2"/>
<line x1="286.00" y1="420.80" x2="286.00" y2="425.20" stroke="#7a7a7a" stroke-width="1.0"/>
<text transform="translate(287.60,431.60) rotate(-45.00) scale(1,1.12)" font-size="7.3" text-anchor="end" fill="#1a1a1a" stroke="#1a1a1a" stroke-width="0.03">WT</text>
<line x1="308.00" y1="420.80" x2="308.00" y2="425.20" stroke="#7a7a7a" stroke-width="1.0"/>
<text transform="translate(309.60,431.60) rotate(-45.00) scale(1,1.12)" font-size="7.3" text-anchor="end" fill="#1a1a1a" stroke="#1a1a1a" stroke-width="0.03">BA.2</text>
<line x1="330.00" y1="420.80" x2="330.00" y2="425.20" stroke="#7a7a7a" stroke-width="1.0"/>
<text transform="translate(331.60,431.60) rotate(-45.00) scale(1,1.12)" font-size="7.3" text-anchor="end" fill="#1a1a1a" stroke="#1a1a1a" stroke-width="0.03">XBB.1.5</text>
<line x1="352.00" y1="420.80" x2="352.00" y2="425.20" stroke="#7a7a7a" stroke-width="1.0"/>
<text transform="translate(353.60,431.60) rotate(-45.00) scale(1,1.12)" font-size="7.3" text-anchor="end" fill="#1a1a1a" stroke="#1a1a1a" stroke-width="0.03">EG.5.1</text>
<line x1="374.00" y1="420.80" x2="374.00" y2="425.20" stroke="#7a7a7a" stroke-width="1.0"/>
<text transform="translate(375.60,431.60) rotate(-45.00) scale(1,1.12)" font-size="7.3" text-anchor="end" fill="#1a1a1a" stroke="#1a1a1a" stroke-width="0.03">HK.3</text>
<line x1="396.00" y1="420.80" x2="396.00" y2="425.20" stroke="#7a7a7a" stroke-width="1.0"/>
<text transform="translate(397.60,431.60) rotate(-45.00) scale(1,1.12)" font-size="7.3" text-anchor="end" fill="#1a1a1a" stroke="#1a1a1a" stroke-width="0.03">BA.2.86</text>
<line x1="418.00" y1="420.80" x2="418.00" y2="425.20" stroke="#7a7a7a" stroke-width="1.0"/>
<text transform="translate(419.60,431.60) rotate(-45.00) scale(1,1.12)" font-size="7.3" text-anchor="end" fill="#1a1a1a" stroke="#1a1a1a" stroke-width="0.03">JN.1</text>
<text transform="translate(243.60,371.30) rotate(-90.00) scale(1,1.12)" font-size="7.3" text-anchor="middle" fill="#1a1a1a" stroke="#1a1a1a" stroke-width="0.03">Neutralization (ID<tspan font-size="5.4" dy="1.5">50</tspan><tspan dy="-1.5">)</tspan></text>
<text transform="translate(542.60,229.00) scale(1,1.06)" font-size="9.5" text-anchor="middle" fill="#1a1a1a" stroke="#1a1a1a" stroke-width="0.03">Visit 2 / Visit 1</text>
<text transform="translate(440.00,262.30) scale(1,1.2)" font-size="7.3" fill="#1a1a1a" stroke="#1a1a1a" stroke-width="0.03">Compared to BA.2</text>
<text transform="translate(443.00,280.00) scale(1,1.2)" font-size="7.3" fill="#1a1a1a" stroke="#1a1a1a" stroke-width="0.03">Compared to WT</text>
<text transform="translate(482.60,293.60) scale(1,1.2)" font-size="7.3" text-anchor="end" fill="#1a1a1a" stroke="#1a1a1a" stroke-width="0.03">Fold</text>
<text transform="translate(542.80,255.30) scale(1,1.2)" font-size="7.2" text-anchor="middle" fill="#1a1a1a" stroke="#1a1a1a" stroke-width="0.03">****</text>
<text transform="translate(564.70,255.30) scale(1,1.2)" font-size="7.2" text-anchor="middle" fill="#1a1a1a" stroke="#1a1a1a" stroke-width="0.03">****</text>
<text transform="translate(586.60,255.30) scale(1,1.2)" font-size="7.2" text-anchor="middle" fill="#1a1a1a" stroke="#1a1a1a" stroke-width="0.03">****</text>
<text transform="translate(608.50,255.30) scale(1,1.2)" font-size="7.2" text-anchor="middle" fill="#1a1a1a" stroke="#1a1a1a" stroke-width="0.03">***</text>
<text transform="translate(630.40,255.30) scale(1,1.2)" font-size="7.2" text-anchor="middle" fill="#1a1a1a" stroke="#1a1a1a" stroke-width="0.03">**</text>
<text transform="translate(542.80,262.30) scale(1,1.2)" font-size="7.2" text-anchor="middle" fill="#1a1a1a" stroke="#1a1a1a" stroke-width="0.03">-12.8x</text>
<text transform="translate(564.70,262.30) scale(1,1.2)" font-size="7.2" text-anchor="middle" fill="#1a1a1a" stroke="#1a1a1a" stroke-width="0.03">-19.6x</text>
<text transform="translate(586.60,262.30) scale(1,1.2)" font-size="7.2" text-anchor="middle" fill="#1a1a1a" stroke="#1a1a1a" stroke-width="0.03">-19.6x</text>
<text transform="translate(608.50,262.30) scale(1,1.2)" font-size="7.2" text-anchor="middle" fill="#1a1a1a" stroke="#1a1a1a" stroke-width="0.03">-6.4x</text>
<text transform="translate(630.40,262.30) scale(1,1.2)" font-size="7.2" text-anchor="middle" fill="#1a1a1a" stroke="#1a1a1a" stroke-width="0.03">-14.7x</text>
<text transform="translate(520.20,272.90) scale(1,1.2)" font-size="7.2" text-anchor="middle" fill="#1a1a1a" stroke="#1a1a1a" stroke-width="0.03">ns</text>
<text transform="translate(542.80,272.90) scale(1,1.2)" font-size="7.2" text-anchor="middle" fill="#1a1a1a" stroke="#1a1a1a" stroke-width="0.03">***</text>
<text transform="translate(564.70,272.90) scale(1,1.2)" font-size="7.2" text-anchor="middle" fill="#1a1a1a" stroke="#1a1a1a" stroke-width="0.03">****</text>
<text transform="translate(586.60,272.90) scale(1,1.2)" font-size="7.2" text-anchor="middle" fill="#1a1a1a" stroke="#1a1a1a" stroke-width="0.03">****</text>
<text transform="translate(608.50,272.90) scale(1,1.2)" font-size="7.2" text-anchor="middle" fill="#1a1a1a" stroke="#1a1a1a" stroke-width="0.03">**</text>
<text transform="translate(630.40,272.90) scale(1,1.2)" font-size="7.2" text-anchor="middle" fill="#1a1a1a" stroke="#1a1a1a" stroke-width="0.03">****</text>
<text transform="translate(520.20,280.00) scale(1,1.2)" font-size="7.2" text-anchor="middle" fill="#1a1a1a" stroke="#1a1a1a" stroke-width="0.03">-1.4x</text>
<text transform="translate(542.80,280.00) scale(1,1.2)" font-size="7.2" text-anchor="middle" fill="#1a1a1a" stroke="#1a1a1a" stroke-width="0.03">-17.7x</text>
<text transform="translate(564.70,280.00) scale(1,1.2)" font-size="7.2" text-anchor="middle" fill="#1a1a1a" stroke="#1a1a1a" stroke-width="0.03">-27.1x</text>
<text transform="translate(586.60,280.00) scale(1,1.2)" font-size="7.2" text-anchor="middle" fill="#1a1a1a" stroke="#1a1a1a" stroke-width="0.03">-27.1x</text>
<text transform="translate(608.50,280.00) scale(1,1.2)" font-size="7.2" text-anchor="middle" fill="#1a1a1a" stroke="#1a1a1a" stroke-width="0.03">-8.8x</text>
<text transform="translate(630.40,280.00) scale(1,1.2)" font-size="7.2" text-anchor="middle" fill="#1a1a1a" stroke="#1a1a1a" stroke-width="0.03">-20.4x</text>
<text transform="translate(499.00,293.60) scale(1,1.2)" font-size="7.2" text-anchor="middle" fill="#1a1a1a" stroke="#1a1a1a" stroke-width="0.03">40.7</text>
<text transform="translate(520.20,293.60) scale(1,1.2)" font-size="7.2" text-anchor="middle" fill="#1a1a1a" stroke="#1a1a1a" stroke-width="0.03">29.4</text>
<text transform="translate(542.80,293.60) scale(1,1.2)" font-size="7.2" text-anchor="middle" fill="#1a1a1a" stroke="#1a1a1a" stroke-width="0.03">2.3</text>
<text transform="translate(564.70,293.60) scale(1,1.2)" font-size="7.2" text-anchor="middle" fill="#1a1a1a" stroke="#1a1a1a" stroke-width="0.03">1.5</text>
<text transform="translate(586.60,293.60) scale(1,1.2)" font-size="7.2" text-anchor="middle" fill="#1a1a1a" stroke="#1a1a1a" stroke-width="0.03">1.5</text>
<text transform="translate(608.50,293.60) scale(1,1.2)" font-size="7.2" text-anchor="middle" fill="#1a1a1a" stroke="#1a1a1a" stroke-width="0.03">4.6</text>
<text transform="translate(630.40,293.60) scale(1,1.2)" font-size="7.2" text-anchor="middle" fill="#1a1a1a" stroke="#1a1a1a" stroke-width="0.03">2.0</text>
<line x1="483.40" y1="313.00" x2="483.40" y2="422.80" stroke="#222" stroke-width="0.9"/>
<line x1="478.80" y1="313.00" x2="483.40" y2="313.00" stroke="#222" stroke-width="0.9"/>
<text x="477.40" y="316.50" font-size="8.5" text-anchor="end" fill="#1a1a1a" transform="translate(477.40,0) scale(0.86,1) translate(-477.40,0)">10<tspan font-size="5.6" dy="-3.2">3</tspan></text>
<line x1="478.80" y1="347.80" x2="483.40" y2="347.80" stroke="#222" stroke-width="0.9"/>
<text x="477.40" y="351.30" font-size="8.5" text-anchor="end" fill="#1a1a1a" transform="translate(477.40,0) scale(0.86,1) translate(-477.40,0)">10<tspan font-size="5.6" dy="-3.2">2</tspan></text>
<line x1="478.80" y1="382.60" x2="483.40" y2="382.60" stroke="#222" stroke-width="0.9"/>
<text x="477.40" y="386.10" font-size="8.5" text-anchor="end" fill="#1a1a1a" transform="translate(477.40,0) scale(0.86,1) translate(-477.40,0)">10<tspan font-size="5.6" dy="-3.2">1</tspan></text>
<line x1="478.80" y1="417.40" x2="483.40" y2="417.40" stroke="#222" stroke-width="0.9"/>
<text x="477.40" y="420.90" font-size="8.5" text-anchor="end" fill="#1a1a1a" transform="translate(477.40,0) scale(0.86,1) translate(-477.40,0)">10<tspan font-size="5.6" dy="-3.2">0</tspan></text>
<rect x="491.30" y="347.60" width="14.2" height="74.40" fill="#BACDEB" stroke="#5B7FC0" stroke-width="0.8"/>
<rect x="513.30" y="353.40" width="14.2" height="68.60" fill="#D3C4EB" stroke="#8062BC" stroke-width="0.8"/>
<rect x="535.30" y="399.40" width="14.2" height="22.60" fill="#F7C2F2" stroke="#D467CC" stroke-width="0.8"/>
<rect x="557.30" y="408.00" width="14.2" height="14.00" fill="#D9EDBB" stroke="#8CC55C" stroke-width="0.8"/>
<rect x="579.30" y="409.20" width="14.2" height="12.80" fill="#A3D0E2" stroke="#21739A" stroke-width="0.8"/>
<rect x="601.30" y="388.00" width="14.2" height="34.00" fill="#ADA1CE" stroke="#4D3B8E" stroke-width="0.8"/>
<rect x="623.30" y="404.00" width="14.2" height="18.00" fill="#F4BCC1" stroke="#CF5D68" stroke-width="0.8"/>
<line x1="483.40" y1="417.40" x2="645.00" y2="417.40" stroke="#111" stroke-width="1.0"/>
<path d="M495.60,321.50L500.20,326.10M495.60,326.10L500.20,321.50" stroke="#4A6FB5" stroke-width="0.95" fill="none"/>
<path d="M490.60,330.30L495.20,334.90M490.60,334.90L495.20,330.30" stroke="#4A6FB5" stroke-width="0.95" fill="none"/>
<path d="M497.40,332.10L502.00,336.70M497.40,336.70L502.00,332.10" stroke="#4A6FB5" stroke-width="0.95" fill="none"/>
<path d="M501.50,328.00L506.10,332.60M501.50,332.60L506.10,328.00" stroke="#4A6FB5" stroke-width="0.95" fill="none"/>
<path d="M494.10,334.40L498.70,339.00M494.10,339.00L498.70,334.40" stroke="#4A6FB5" stroke-width="0.95" fill="none"/>
<path d="M495.60,342.60L500.20,347.20M495.60,347.20L500.20,342.60" stroke="#4A6FB5" stroke-width="0.95" fill="none"/>
<path d="M493.90,350.20L498.50,354.80M493.90,354.80L498.50,350.20" stroke="#4A6FB5" stroke-width="0.95" fill="none"/>
<path d="M491.00,356.00L495.60,360.60M491.00,360.60L495.60,356.00" stroke="#4A6FB5" stroke-width="0.95" fill="none"/>
<path d="M495.00,356.00L499.60,360.60M495.00,360.60L499.60,356.00" stroke="#4A6FB5" stroke-width="0.95" fill="none"/>
<path d="M500.30,355.40L504.90,360.00M500.30,360.00L504.90,355.40" stroke="#4A6FB5" stroke-width="0.95" fill="none"/>
<path d="M492.70,358.90L497.30,363.50M492.70,363.50L497.30,358.90" stroke="#4A6FB5" stroke-width="0.95" fill="none"/>
<path d="M497.40,361.80L502.00,366.40M497.40,366.40L502.00,361.80" stroke="#4A6FB5" stroke-width="0.95" fill="none"/>
<path d="M494.50,361.20L499.10,365.80M494.50,365.80L499.10,361.20" stroke="#4A6FB5" stroke-width="0.95" fill="none"/>
<path d="M497.40,375.80L502.00,380.40M497.40,380.40L502.00,375.80" stroke="#4A6FB5" stroke-width="0.95" fill="none"/>
<path d="M493.90,379.30L498.50,383.90M493.90,383.90L498.50,379.30" stroke="#4A6FB5" stroke-width="0.95" fill="none"/>
<path d="M490.40,385.80L495.00,390.40M490.40,390.40L495.00,385.80" stroke="#4A6FB5" stroke-width="0.95" fill="none"/>
<path d="M497.40,385.80L502.00,390.40M497.40,390.40L502.00,385.80" stroke="#4A6FB5" stroke-width="0.95" fill="none"/>
<path d="M500.90,385.20L505.50,389.80M500.90,389.80L505.50,385.20" stroke="#4A6FB5" stroke-width="0.95" fill="none"/>
<path d="M493.30,390.40L497.90,395.00M493.30,395.00L497.90,390.40" stroke="#4A6FB5" stroke-width="0.95" fill="none"/>
<path d="M497.40,389.30L502.00,393.90M497.40,393.90L502.00,389.30" stroke="#4A6FB5" stroke-width="0.95" fill="none"/>
<path d="M523.30,328.80L527.90,333.40M523.30,333.40L527.90,328.80" stroke="#7A55B8" stroke-width="0.95" fill="none"/>
<path d="M512.60,332.60L517.20,337.20M512.60,337.20L517.20,332.60" stroke="#7A55B8" stroke-width="0.95" fill="none"/>
<path d="M522.80,335.00L527.40,339.60M522.80,339.60L527.40,335.00" stroke="#7A55B8" stroke-width="0.95" fill="none"/>
<path d="M517.80,338.50L522.40,343.10M517.80,343.10L522.40,338.50" stroke="#7A55B8" stroke-width="0.95" fill="none"/>
<path d="M512.30,343.10L516.90,347.70M512.30,347.70L516.90,343.10" stroke="#7A55B8" stroke-width="0.95" fill="none"/>
<path d="M523.10,344.90L527.70,349.50M523.10,349.50L527.70,344.90" stroke="#7A55B8" stroke-width="0.95" fill="none"/>
<path d="M517.80,348.40L522.40,353.00M517.80,353.00L522.40,348.40" stroke="#7A55B8" stroke-width="0.95" fill="none"/>
<path d="M517.80,357.70L522.40,362.30M517.80,362.30L522.40,357.70" stroke="#7A55B8" stroke-width="0.95" fill="none"/>
<path d="M517.80,363.60L522.40,368.20M517.80,368.20L522.40,363.60" stroke="#7A55B8" stroke-width="0.95" fill="none"/>
<path d="M512.60,365.90L517.20,370.50M512.60,370.50L517.20,365.90" stroke="#7A55B8" stroke-width="0.95" fill="none"/>
<path d="M512.60,371.20L517.20,375.80M512.60,375.80L517.20,371.20" stroke="#7A55B8" stroke-width="0.95" fill="none"/>
<path d="M517.80,370.00L522.40,374.60M517.80,374.60L522.40,370.00" stroke="#7A55B8" stroke-width="0.95" fill="none"/>
<path d="M522.50,370.00L527.10,374.60M522.50,374.60L527.10,370.00" stroke="#7A55B8" stroke-width="0.95" fill="none"/>
<path d="M523.10,373.50L527.70,378.10M523.10,378.10L527.70,373.50" stroke="#7A55B8" stroke-width="0.95" fill="none"/>
<path d="M517.80,377.00L522.40,381.60M517.80,381.60L522.40,377.00" stroke="#7A55B8" stroke-width="0.95" fill="none"/>
<path d="M514.30,384.60L518.90,389.20M514.30,389.20L518.90,384.60" stroke="#7A55B8" stroke-width="0.95" fill="none"/>
<path d="M520.70,385.20L525.30,389.80M520.70,389.80L525.30,385.20" stroke="#7A55B8" stroke-width="0.95" fill="none"/>
<path d="M515.50,392.20L520.10,396.80M515.50,396.80L520.10,392.20" stroke="#7A55B8" stroke-width="0.95" fill="none"/>
<path d="M520.20,393.40L524.80,398.00M520.20,398.00L524.80,393.40" stroke="#7A55B8" stroke-width="0.95" fill="none"/>
<path d="M518.10,403.30L522.70,407.90M518.10,407.90L522.70,403.30" stroke="#7A55B8" stroke-width="0.95" fill="none"/>
<path d="M539.90,377.40L544.50,382.00M539.90,382.00L544.50,377.40" stroke="#B93DB3" stroke-width="0.95" fill="none"/>
<path d="M538.70,382.20L543.30,386.80M538.70,386.80L543.30,382.20" stroke="#B93DB3" stroke-width="0.95" fill="none"/>
<path d="M541.10,384.20L545.70,388.80M541.10,388.80L545.70,384.20" stroke="#B93DB3" stroke-width="0.95" fill="none"/>
<path d="M539.30,386.70L543.90,391.30M539.30,391.30L543.90,386.70" stroke="#B93DB3" stroke-width="0.95" fill="none"/>
<path d="M540.70,388.70L545.30,393.30M540.70,393.30L545.30,388.70" stroke="#B93DB3" stroke-width="0.95" fill="none"/>
<path d="M538.40,391.20L543.00,395.80M538.40,395.80L543.00,391.20" stroke="#B93DB3" stroke-width="0.95" fill="none"/>
<path d="M541.40,393.20L546.00,397.80M541.40,397.80L546.00,393.20" stroke="#B93DB3" stroke-width="0.95" fill="none"/>
<path d="M539.90,396.20L544.50,400.80M539.90,400.80L544.50,396.20" stroke="#B93DB3" stroke-width="0.95" fill="none"/>
<path d="M538.70,399.20L543.30,403.80M538.70,403.80L543.30,399.20" stroke="#B93DB3" stroke-width="0.95" fill="none"/>
<path d="M541.10,401.20L545.70,405.80M541.10,405.80L545.70,401.20" stroke="#B93DB3" stroke-width="0.95" fill="none"/>
<path d="M539.30,403.20L543.90,407.80M539.30,407.80L543.90,403.20" stroke="#B93DB3" stroke-width="0.95" fill="none"/>
<path d="M540.70,404.50L545.30,409.10M540.70,409.10L545.30,404.50" stroke="#B93DB3" stroke-width="0.95" fill="none"/>
<path d="M533.20,415.30L537.80,419.90M533.20,419.90L537.80,415.30" stroke="#B93DB3" stroke-width="0.95" fill="none"/>
<path d="M535.13,415.30L539.73,419.90M535.13,419.90L539.73,415.30" stroke="#B93DB3" stroke-width="0.95" fill="none"/>
<path d="M537.06,415.30L541.66,419.90M537.06,419.90L541.66,415.30" stroke="#B93DB3" stroke-width="0.95" fill="none"/>
<path d="M538.99,415.30L543.59,419.90M538.99,419.90L543.59,415.30" stroke="#B93DB3" stroke-width="0.95" fill="none"/>
<path d="M540.91,415.30L545.51,419.90M540.91,419.90L545.51,415.30" stroke="#B93DB3" stroke-width="0.95" fill="none"/>
<path d="M542.84,415.30L547.44,419.90M542.84,419.90L547.44,415.30" stroke="#B93DB3" stroke-width="0.95" fill="none"/>
<path d="M544.77,415.30L549.37,419.90M544.77,419.90L549.37,415.30" stroke="#B93DB3" stroke-width="0.95" fill="none"/>
<path d="M546.70,415.30L551.30,419.90M546.70,419.90L551.30,415.30" stroke="#B93DB3" stroke-width="0.95" fill="none"/>
<path d="M561.60,387.70L566.20,392.30M561.60,392.30L566.20,387.70" stroke="#6CAE3A" stroke-width="0.95" fill="none"/>
<path d="M560.40,392.20L565.00,396.80M560.40,396.80L565.00,392.20" stroke="#6CAE3A" stroke-width="0.95" fill="none"/>
<path d="M562.80,394.70L567.40,399.30M562.80,399.30L567.40,394.70" stroke="#6CAE3A" stroke-width="0.95" fill="none"/>
<path d="M561.00,397.20L565.60,401.80M561.00,401.80L565.60,397.20" stroke="#6CAE3A" stroke-width="0.95" fill="none"/>
<path d="M562.40,399.20L567.00,403.80M562.40,403.80L567.00,399.20" stroke="#6CAE3A" stroke-width="0.95" fill="none"/>
<path d="M560.10,401.20L564.70,405.80M560.10,405.80L564.70,401.20" stroke="#6CAE3A" stroke-width="0.95" fill="none"/>
<path d="M563.10,403.20L567.70,407.80M563.10,407.80L567.70,403.20" stroke="#6CAE3A" stroke-width="0.95" fill="none"/>
<path d="M561.60,405.20L566.20,409.80M561.60,409.80L566.20,405.20" stroke="#6CAE3A" stroke-width="0.95" fill="none"/>
<path d="M560.40,406.60L565.00,411.20M560.40,411.20L565.00,406.60" stroke="#6CAE3A" stroke-width="0.95" fill="none"/>
<path d="M554.70,415.30L559.30,419.90M554.70,419.90L559.30,415.30" stroke="#6CAE3A" stroke-width="0.95" fill="none"/>
<path d="M556.10,415.30L560.70,419.90M556.10,419.90L560.70,415.30" stroke="#6CAE3A" stroke-width="0.95" fill="none"/>
<path d="M557.50,415.30L562.10,419.90M557.50,419.90L562.10,415.30" stroke="#6CAE3A" stroke-width="0.95" fill="none"/>
<path d="M558.90,415.30L563.50,419.90M558.90,419.90L563.50,415.30" stroke="#6CAE3A" stroke-width="0.95" fill="none"/>
<path d="M560.30,415.30L564.90,419.90M560.30,419.90L564.90,415.30" stroke="#6CAE3A" stroke-width="0.95" fill="none"/>
<path d="M561.70,415.30L566.30,419.90M561.70,419.90L566.30,415.30" stroke="#6CAE3A" stroke-width="0.95" fill="none"/>
<path d="M563.10,415.30L567.70,419.90M563.10,419.90L567.70,415.30" stroke="#6CAE3A" stroke-width="0.95" fill="none"/>
<path d="M564.50,415.30L569.10,419.90M564.50,419.90L569.10,415.30" stroke="#6CAE3A" stroke-width="0.95" fill="none"/>
<path d="M565.90,415.30L570.50,419.90M565.90,419.90L570.50,415.30" stroke="#6CAE3A" stroke-width="0.95" fill="none"/>
<path d="M567.30,415.30L571.90,419.90M567.30,419.90L571.90,415.30" stroke="#6CAE3A" stroke-width="0.95" fill="none"/>
<path d="M568.70,415.30L573.30,419.90M568.70,419.90L573.30,415.30" stroke="#6CAE3A" stroke-width="0.95" fill="none"/>
<path d="M583.40,391.00L588.00,395.60M583.40,395.60L588.00,391.00" stroke="#1E6A8C" stroke-width="0.95" fill="none"/>
<path d="M582.20,394.20L586.80,398.80M582.20,398.80L586.80,394.20" stroke="#1E6A8C" stroke-width="0.95" fill="none"/>
<path d="M584.60,396.20L589.20,400.80M584.60,400.80L589.20,396.20" stroke="#1E6A8C" stroke-width="0.95" fill="none"/>
<path d="M582.80,398.20L587.40,402.80M582.80,402.80L587.40,398.20" stroke="#1E6A8C" stroke-width="0.95" fill="none"/>
<path d="M584.20,400.20L588.80,404.80M584.20,404.80L588.80,400.20" stroke="#1E6A8C" stroke-width="0.95" fill="none"/>
<path d="M581.90,402.20L586.50,406.80M581.90,406.80L586.50,402.20" stroke="#1E6A8C" stroke-width="0.95" fill="none"/>
<path d="M584.90,404.20L589.50,408.80M584.90,408.80L589.50,404.20" stroke="#1E6A8C" stroke-width="0.95" fill="none"/>
<path d="M583.40,405.60L588.00,410.20M583.40,410.20L588.00,405.60" stroke="#1E6A8C" stroke-width="0.95" fill="none"/>
<path d="M577.20,415.30L581.80,419.90M577.20,419.90L581.80,415.30" stroke="#1E6A8C" stroke-width="0.95" fill="none"/>
<path d="M578.43,415.30L583.03,419.90M578.43,419.90L583.03,415.30" stroke="#1E6A8C" stroke-width="0.95" fill="none"/>
<path d="M579.65,415.30L584.25,419.90M579.65,419.90L584.25,415.30" stroke="#1E6A8C" stroke-width="0.95" fill="none"/>
<path d="M580.88,415.30L585.48,419.90M580.88,419.90L585.48,415.30" stroke="#1E6A8C" stroke-width="0.95" fill="none"/>
<path d="M582.11,415.30L586.71,419.90M582.11,419.90L586.71,415.30" stroke="#1E6A8C" stroke-width="0.95" fill="none"/>
<path d="M583.34,415.30L587.94,419.90M583.34,419.90L587.94,415.30" stroke="#1E6A8C" stroke-width="0.95" fill="none"/>
<path d="M584.56,415.30L589.16,419.90M584.56,419.90L589.16,415.30" stroke="#1E6A8C" stroke-width="0.95" fill="none"/>
<path d="M585.79,415.30L590.39,419.90M585.79,419.90L590.39,415.30" stroke="#1E6A8C" stroke-width="0.95" fill="none"/>
<path d="M587.02,415.30L591.62,419.90M587.02,419.90L591.62,415.30" stroke="#1E6A8C" stroke-width="0.95" fill="none"/>
<path d="M588.25,415.30L592.85,419.90M588.25,419.90L592.85,415.30" stroke="#1E6A8C" stroke-width="0.95" fill="none"/>
<path d="M589.47,415.30L594.07,419.90M589.47,419.90L594.07,415.30" stroke="#1E6A8C" stroke-width="0.95" fill="none"/>
<path d="M590.70,415.30L595.30,419.90M590.70,419.90L595.30,415.30" stroke="#1E6A8C" stroke-width="0.95" fill="none"/>
<path d="M605.70,368.00L610.30,372.60M605.70,372.60L610.30,368.00" stroke="#4D3B8E" stroke-width="0.95" fill="none"/>
<path d="M602.90,374.40L607.50,379.00M602.90,379.00L607.50,374.40" stroke="#4D3B8E" stroke-width="0.95" fill="none"/>
<path d="M607.90,373.50L612.50,378.10M607.90,378.10L612.50,373.50" stroke="#4D3B8E" stroke-width="0.95" fill="none"/>
<path d="M605.20,376.70L609.80,381.30M605.20,381.30L609.80,376.70" stroke="#4D3B8E" stroke-width="0.95" fill="none"/>
<path d="M608.90,377.60L613.50,382.20M608.90,382.20L613.50,377.60" stroke="#4D3B8E" stroke-width="0.95" fill="none"/>
<path d="M600.60,381.30L605.20,385.90M600.60,385.90L605.20,381.30" stroke="#4D3B8E" stroke-width="0.95" fill="none"/>
<path d="M603.80,380.80L608.40,385.40M603.80,385.40L608.40,380.80" stroke="#4D3B8E" stroke-width="0.95" fill="none"/>
<path d="M607.50,379.90L612.10,384.50M607.50,384.50L612.10,379.90" stroke="#4D3B8E" stroke-width="0.95" fill="none"/>
<path d="M611.60,382.20L616.20,386.80M611.60,386.80L616.20,382.20" stroke="#4D3B8E" stroke-width="0.95" fill="none"/>
<path d="M605.20,385.40L609.80,390.00M605.20,390.00L609.80,385.40" stroke="#4D3B8E" stroke-width="0.95" fill="none"/>
<path d="M602.00,399.20L606.60,403.80M602.00,403.80L606.60,399.20" stroke="#4D3B8E" stroke-width="0.95" fill="none"/>
<path d="M611.20,399.20L615.80,403.80M611.20,403.80L615.80,399.20" stroke="#4D3B8E" stroke-width="0.95" fill="none"/>
<path d="M603.80,400.10L608.40,404.70M603.80,404.70L608.40,400.10" stroke="#4D3B8E" stroke-width="0.95" fill="none"/>
<path d="M608.40,402.90L613.00,407.50M608.40,407.50L613.00,402.90" stroke="#4D3B8E" stroke-width="0.95" fill="none"/>
<path d="M602.90,406.10L607.50,410.70M602.90,410.70L607.50,406.10" stroke="#4D3B8E" stroke-width="0.95" fill="none"/>
<path d="M600.60,383.10L605.20,387.70M600.60,387.70L605.20,383.10" stroke="#4D3B8E" stroke-width="0.95" fill="none"/>
<path d="M600.70,415.30L605.30,419.90M600.70,419.90L605.30,415.30" stroke="#4D3B8E" stroke-width="0.95" fill="none"/>
<path d="M604.37,415.30L608.97,419.90M604.37,419.90L608.97,415.30" stroke="#4D3B8E" stroke-width="0.95" fill="none"/>
<path d="M608.03,415.30L612.63,419.90M608.03,419.90L612.63,415.30" stroke="#4D3B8E" stroke-width="0.95" fill="none"/>
<path d="M611.70,415.30L616.30,419.90M611.70,419.90L616.30,415.30" stroke="#4D3B8E" stroke-width="0.95" fill="none"/>
<path d="M626.80,388.20L631.40,392.80M626.80,392.80L631.40,388.20" stroke="#B7323D" stroke-width="0.95" fill="none"/>
<path d="M630.00,390.00L634.60,394.60M630.00,394.60L634.60,390.00" stroke="#B7323D" stroke-width="0.95" fill="none"/>
<path d="M625.00,391.90L629.60,396.50M625.00,396.50L629.60,391.90" stroke="#B7323D" stroke-width="0.95" fill="none"/>
<path d="M628.20,393.20L632.80,397.80M628.20,397.80L632.80,393.20" stroke="#B7323D" stroke-width="0.95" fill="none"/>
<path d="M630.50,394.60L635.10,399.20M630.50,399.20L635.10,394.60" stroke="#B7323D" stroke-width="0.95" fill="none"/>
<path d="M626.30,395.50L630.90,400.10M626.30,400.10L630.90,395.50" stroke="#B7323D" stroke-width="0.95" fill="none"/>
<path d="M629.10,397.40L633.70,402.00M629.10,402.00L633.70,397.40" stroke="#B7323D" stroke-width="0.95" fill="none"/>
<path d="M625.40,398.80L630.00,403.40M625.40,403.40L630.00,398.80" stroke="#B7323D" stroke-width="0.95" fill="none"/>
<path d="M627.70,402.00L632.30,406.60M627.70,406.60L632.30,402.00" stroke="#B7323D" stroke-width="0.95" fill="none"/>
<path d="M627.20,404.70L631.80,409.30M627.20,409.30L631.80,404.70" stroke="#B7323D" stroke-width="0.95" fill="none"/>
<path d="M627.70,408.40L632.30,413.00M627.70,413.00L632.30,408.40" stroke="#B7323D" stroke-width="0.95" fill="none"/>
<path d="M626.80,400.10L631.40,404.70M626.80,404.70L631.40,400.10" stroke="#B7323D" stroke-width="0.95" fill="none"/>
<path d="M620.70,415.30L625.30,419.90M620.70,419.90L625.30,415.30" stroke="#B7323D" stroke-width="0.95" fill="none"/>
<path d="M622.64,415.30L627.24,419.90M622.64,419.90L627.24,415.30" stroke="#B7323D" stroke-width="0.95" fill="none"/>
<path d="M624.59,415.30L629.19,419.90M624.59,419.90L629.19,415.30" stroke="#B7323D" stroke-width="0.95" fill="none"/>
<path d="M626.53,415.30L631.13,419.90M626.53,419.90L631.13,415.30" stroke="#B7323D" stroke-width="0.95" fill="none"/>
<path d="M628.47,415.30L633.07,419.90M628.47,419.90L633.07,415.30" stroke="#B7323D" stroke-width="0.95" fill="none"/>
<path d="M630.41,415.30L635.01,419.90M630.41,419.90L635.01,415.30" stroke="#B7323D" stroke-width="0.95" fill="none"/>
<path d="M632.36,415.30L636.96,419.90M632.36,419.90L636.96,415.30" stroke="#B7323D" stroke-width="0.95" fill="none"/>
<path d="M634.30,415.30L638.90,419.90M634.30,419.90L638.90,415.30" stroke="#B7323D" stroke-width="0.95" fill="none"/>
<line x1="498.40" y1="343.70" x2="498.40" y2="352.50" stroke="#2b2b2b" stroke-width="0.8"/>
<line x1="495.60" y1="343.70" x2="501.20" y2="343.70" stroke="#2b2b2b" stroke-width="0.9"/>
<line x1="495.60" y1="352.50" x2="501.20" y2="352.50" stroke="#2b2b2b" stroke-width="0.9"/>
<line x1="520.40" y1="349.30" x2="520.40" y2="358.30" stroke="#2b2b2b" stroke-width="0.8"/>
<line x1="517.60" y1="349.30" x2="523.20" y2="349.30" stroke="#2b2b2b" stroke-width="0.9"/>
<line x1="517.60" y1="358.30" x2="523.20" y2="358.30" stroke="#2b2b2b" stroke-width="0.9"/>
<line x1="542.40" y1="396.60" x2="542.40" y2="402.50" stroke="#2b2b2b" stroke-width="0.8"/>
<line x1="539.60" y1="396.60" x2="545.20" y2="396.60" stroke="#2b2b2b" stroke-width="0.9"/>
<line x1="539.60" y1="402.50" x2="545.20" y2="402.50" stroke="#2b2b2b" stroke-width="0.9"/>
<line x1="564.40" y1="406.30" x2="564.40" y2="411.50" stroke="#2b2b2b" stroke-width="0.8"/>
<line x1="561.60" y1="406.30" x2="567.20" y2="406.30" stroke="#2b2b2b" stroke-width="0.9"/>
<line x1="561.60" y1="411.50" x2="567.20" y2="411.50" stroke="#2b2b2b" stroke-width="0.9"/>
<line x1="586.40" y1="407.40" x2="586.40" y2="411.50" stroke="#2b2b2b" stroke-width="0.8"/>
<line x1="583.60" y1="407.40" x2="589.20" y2="407.40" stroke="#2b2b2b" stroke-width="0.9"/>
<line x1="583.60" y1="411.50" x2="589.20" y2="411.50" stroke="#2b2b2b" stroke-width="0.9"/>
<line x1="608.40" y1="384.50" x2="608.40" y2="392.00" stroke="#2b2b2b" stroke-width="0.8"/>
<line x1="605.60" y1="384.50" x2="611.20" y2="384.50" stroke="#2b2b2b" stroke-width="0.9"/>
<line x1="605.60" y1="392.00" x2="611.20" y2="392.00" stroke="#2b2b2b" stroke-width="0.9"/>
<line x1="630.40" y1="401.00" x2="630.40" y2="407.00" stroke="#2b2b2b" stroke-width="0.8"/>
<line x1="627.60" y1="401.00" x2="633.20" y2="401.00" stroke="#2b2b2b" stroke-width="0.9"/>
<line x1="627.60" y1="407.00" x2="633.20" y2="407.00" stroke="#2b2b2b" stroke-width="0.9"/>
<line x1="483.40" y1="422.40" x2="645.00" y2="422.40" stroke="#7a7a7a" stroke-width="1.2"/>
<line x1="498.40" y1="422.40" x2="498.40" y2="426.80" stroke="#7a7a7a" stroke-width="1.0"/>
<text transform="translate(500.00,433.20) rotate(-45.00) scale(1,1.12)" font-size="7.3" text-anchor="end" fill="#1a1a1a" stroke="#1a1a1a" stroke-width="0.03">WT</text>
<line x1="520.40" y1="422.40" x2="520.40" y2="426.80" stroke="#7a7a7a" stroke-width="1.0"/>
<text transform="translate(522.00,433.20) rotate(-45.00) scale(1,1.12)" font-size="7.3" text-anchor="end" fill="#1a1a1a" stroke="#1a1a1a" stroke-width="0.03">BA.2</text>
<line x1="542.40" y1="422.40" x2="542.40" y2="426.80" stroke="#7a7a7a" stroke-width="1.0"/>
<text transform="translate(544.00,433.20) rotate(-45.00) scale(1,1.12)" font-size="7.3" text-anchor="end" fill="#1a1a1a" stroke="#1a1a1a" stroke-width="0.03">XBB.1.5</text>
<line x1="564.40" y1="422.40" x2="564.40" y2="426.80" stroke="#7a7a7a" stroke-width="1.0"/>
<text transform="translate(566.00,433.20) rotate(-45.00) scale(1,1.12)" font-size="7.3" text-anchor="end" fill="#1a1a1a" stroke="#1a1a1a" stroke-width="0.03">EG.5.1</text>
<line x1="586.40" y1="422.40" x2="586.40" y2="426.80" stroke="#7a7a7a" stroke-width="1.0"/>
<text transform="translate(588.00,433.20) rotate(-45.00) scale(1,1.12)" font-size="7.3" text-anchor="end" fill="#1a1a1a" stroke="#1a1a1a" stroke-width="0.03">HK.3</text>
<line x1="608.40" y1="422.40" x2="608.40" y2="426.80" stroke="#7a7a7a" stroke-width="1.0"/>
<text transform="translate(610.00,433.20) rotate(-45.00) scale(1,1.12)" font-size="7.3" text-anchor="end" fill="#1a1a1a" stroke="#1a1a1a" stroke-width="0.03">BA.2.86</text>
<line x1="630.40" y1="422.40" x2="630.40" y2="426.80" stroke="#7a7a7a" stroke-width="1.0"/>
<text transform="translate(632.00,433.20) rotate(-45.00) scale(1,1.12)" font-size="7.3" text-anchor="end" fill="#1a1a1a" stroke="#1a1a1a" stroke-width="0.03">JN.1</text>
<text transform="translate(444.80,359.80) rotate(-90.00) scale(1,1.12)" font-size="7.4" text-anchor="middle" fill="#1a1a1a" stroke="#1a1a1a" stroke-width="0.03">Enhanced neutralization</text>
<text transform="translate(454.20,359.00) rotate(-90.00) scale(1,1.12)" font-size="7.4" text-anchor="middle" fill="#1a1a1a" stroke="#1a1a1a" stroke-width="0.03">(Fold Change)</text>
<rect x="75.95" y="504.40" width="51.55" height="20.00" fill="#f86a6b"/>
<rect x="127.50" y="504.40" width="51.55" height="20.00" fill="#f86a6b"/>
<rect x="179.05" y="504.40" width="51.55" height="20.00" fill="#f8696b"/>
<rect x="230.60" y="504.40" width="51.55" height="20.00" fill="#f8696b"/>
<rect x="282.15" y="504.40" width="51.55" height="20.00" fill="#f8716d"/>
<rect x="333.70" y="504.40" width="51.55" height="20.00" fill="#f97e6f"/>
<rect x="385.25" y="504.40" width="51.55" height="20.00" fill="#fed480"/>
<rect x="436.80" y="504.40" width="51.55" height="20.00" fill="#ffeb84"/>
<rect x="488.35" y="504.40" width="51.55" height="20.00" fill="#ffe382"/>
<rect x="539.90" y="504.40" width="51.55" height="20.00" fill="#fdc07c"/>
<rect x="591.45" y="504.40" width="51.55" height="20.00" fill="#ffeb84"/>
<rect x="75.95" y="524.40" width="51.55" height="20.00" fill="#f86a6b"/>
<rect x="127.50" y="524.40" width="51.55" height="20.00" fill="#f86d6c"/>
<rect x="179.05" y="524.40" width="51.55" height="20.00" fill="#f8696b"/>
<rect x="230.60" y="524.40" width="51.55" height="20.00" fill="#f8696b"/>
<rect x="282.15" y="524.40" width="51.55" height="20.00" fill="#f2e783"/>
<rect x="333.70" y="524.40" width="51.55" height="20.00" fill="#fcb67a"/>
<rect x="385.25" y="524.40" width="51.55" height="20.00" fill="#fdea84"/>
<rect x="436.80" y="524.40" width="51.55" height="20.00" fill="#f2e783"/>
<rect x="488.35" y="524.40" width="51.55" height="20.00" fill="#efe783"/>
<rect x="539.90" y="524.40" width="51.55" height="20.00" fill="#f1e783"/>
<rect x="591.45" y="524.40" width="51.55" height="20.00" fill="#d8e082"/>
<rect x="75.95" y="544.40" width="51.55" height="20.00" fill="#f86f6c"/>
<rect x="127.50" y="544.40" width="51.55" height="20.00" fill="#feeb84"/>
<rect x="179.05" y="544.40" width="51.55" height="20.00" fill="#808080"/>
<rect x="230.60" y="544.40" width="51.55" height="20.00" fill="#808080"/>
<rect x="282.15" y="544.40" width="51.55" height="20.00" fill="#faea84"/>
<rect x="333.70" y="544.40" width="51.55" height="20.00" fill="#fcab78"/>
<rect x="385.25" y="544.40" width="51.55" height="20.00" fill="#fedb81"/>
<rect x="436.80" y="544.40" width="51.55" height="20.00" fill="#f6e883"/>
<rect x="488.35" y="544.40" width="51.55" height="20.00" fill="#fdea84"/>
<rect x="539.90" y="544.40" width="51.55" height="20.00" fill="#f1e783"/>
<rect x="591.45" y="544.40" width="51.55" height="20.00" fill="#64be7b"/>
<rect x="75.95" y="564.40" width="51.55" height="20.00" fill="#f86b6b"/>
<rect x="127.50" y="564.40" width="51.55" height="20.00" fill="#fed780"/>
<rect x="179.05" y="564.40" width="51.55" height="20.00" fill="#808080"/>
<rect x="230.60" y="564.40" width="51.55" height="20.00" fill="#808080"/>
<rect x="282.15" y="564.40" width="51.55" height="20.00" fill="#f7e984"/>
<rect x="333.70" y="564.40" width="51.55" height="20.00" fill="#fba176"/>
<rect x="385.25" y="564.40" width="51.55" height="20.00" fill="#feeb84"/>
<rect x="436.80" y="564.40" width="51.55" height="20.00" fill="#f2e783"/>
<rect x="488.35" y="564.40" width="51.55" height="20.00" fill="#fdeb84"/>
<rect x="539.90" y="564.40" width="51.55" height="20.00" fill="#eae583"/>
<rect x="591.45" y="564.40" width="51.55" height="20.00" fill="#c2d980"/>
<rect x="75.95" y="584.40" width="51.55" height="20.00" fill="#f86e6c"/>
<rect x="127.50" y="584.40" width="51.55" height="20.00" fill="#eee683"/>
<rect x="179.05" y="584.40" width="51.55" height="20.00" fill="#808080"/>
<rect x="230.60" y="584.40" width="51.55" height="20.00" fill="#808080"/>
<rect x="282.15" y="584.40" width="51.55" height="20.00" fill="#f6e883"/>
<rect x="333.70" y="584.40" width="51.55" height="20.00" fill="#fcb57a"/>
<rect x="385.25" y="584.40" width="51.55" height="20.00" fill="#fbea84"/>
<rect x="436.80" y="584.40" width="51.55" height="20.00" fill="#f1e783"/>
<rect x="488.35" y="584.40" width="51.55" height="20.00" fill="#f7e984"/>
<rect x="539.90" y="584.40" width="51.55" height="20.00" fill="#e5e382"/>
<rect x="591.45" y="584.40" width="51.55" height="20.00" fill="#63be7b"/>
<rect x="75.95" y="604.40" width="51.55" height="20.00" fill="#f86a6b"/>
<rect x="127.50" y="604.40" width="51.55" height="20.00" fill="#808080"/>
<rect x="179.05" y="604.40" width="51.55" height="20.00" fill="#808080"/>
<rect x="230.60" y="604.40" width="51.55" height="20.00" fill="#808080"/>
<rect x="282.15" y="604.40" width="51.55" height="20.00" fill="#fcb77a"/>
<rect x="333.70" y="604.40" width="51.55" height="20.00" fill="#eae583"/>
<rect x="385.25" y="604.40" width="51.55" height="20.00" fill="#fa8e72"/>
<rect x="436.80" y="604.40" width="51.55" height="20.00" fill="#d3de81"/>
<rect x="488.35" y="604.40" width="51.55" height="20.00" fill="#fba276"/>
<rect x="539.90" y="604.40" width="51.55" height="20.00" fill="#808080"/>
<rect x="591.45" y="604.40" width="51.55" height="20.00" fill="#808080"/>
<rect x="75.95" y="624.40" width="51.55" height="20.00" fill="#f8696b"/>
<rect x="127.50" y="624.40" width="51.55" height="20.00" fill="#808080"/>
<rect x="179.05" y="624.40" width="51.55" height="20.00" fill="#808080"/>
<rect x="230.60" y="624.40" width="51.55" height="20.00" fill="#808080"/>
<rect x="282.15" y="624.40" width="51.55" height="20.00" fill="#fdcb7e"/>
<rect x="333.70" y="624.40" width="51.55" height="20.00" fill="#c7db81"/>
<rect x="385.25" y="624.40" width="51.55" height="20.00" fill="#fb9874"/>
<rect x="436.80" y="624.40" width="51.55" height="20.00" fill="#96cd7e"/>
<rect x="488.35" y="624.40" width="51.55" height="20.00" fill="#fed780"/>
<rect x="539.90" y="624.40" width="51.55" height="20.00" fill="#808080"/>
<rect x="591.45" y="624.40" width="51.55" height="20.00" fill="#808080"/>
<rect x="75.95" y="664.40" width="51.55" height="20.00" fill="#f86b6b"/>
<rect x="127.50" y="664.40" width="51.55" height="20.00" fill="#fa8c72"/>
<rect x="179.05" y="664.40" width="51.55" height="20.00" fill="#f8696b"/>
<rect x="230.60" y="664.40" width="51.55" height="20.00" fill="#f8696b"/>
<rect x="282.15" y="664.40" width="51.55" height="20.00" fill="#fdeb84"/>
<rect x="333.70" y="664.40" width="51.55" height="20.00" fill="#ffeb84"/>
<rect x="385.25" y="664.40" width="51.55" height="20.00" fill="#fed27f"/>
<rect x="436.80" y="664.40" width="51.55" height="20.00" fill="#c7db81"/>
<rect x="488.35" y="664.40" width="51.55" height="20.00" fill="#fae984"/>
<rect x="539.90" y="664.40" width="51.55" height="20.00" fill="#dbe182"/>
<rect x="591.45" y="664.40" width="51.55" height="20.00" fill="#63be7b"/>
<line x1="24.40" y1="475.00" x2="24.40" y2="684.40" stroke="#111" stroke-width="1.0"/>
<line x1="75.95" y1="475.00" x2="75.95" y2="684.40" stroke="#111" stroke-width="1.0"/>
<line x1="127.50" y1="475.00" x2="127.50" y2="684.40" stroke="#111" stroke-width="1.0"/>
<line x1="179.05" y1="475.00" x2="179.05" y2="684.40" stroke="#111" stroke-width="1.0"/>
<line x1="230.60" y1="475.00" x2="230.60" y2="684.40" stroke="#111" stroke-width="1.0"/>
<line x1="282.15" y1="475.00" x2="282.15" y2="684.40" stroke="#111" stroke-width="1.0"/>
<line x1="333.70" y1="475.00" x2="333.70" y2="684.40" stroke="#111" stroke-width="1.0"/>
<line x1="385.25" y1="475.00" x2="385.25" y2="684.40" stroke="#111" stroke-width="1.0"/>
<line x1="436.80" y1="475.00" x2="436.80" y2="684.40" stroke="#111" stroke-width="1.0"/>
<line x1="488.35" y1="475.00" x2="488.35" y2="684.40" stroke="#111" stroke-width="1.0"/>
<line x1="539.90" y1="475.00" x2="539.90" y2="684.40" stroke="#111" stroke-width="1.0"/>
<line x1="591.45" y1="475.00" x2="591.45" y2="684.40" stroke="#111" stroke-width="1.0"/>
<line x1="643.00" y1="475.00" x2="643.00" y2="684.40" stroke="#111" stroke-width="1.0"/>
<line x1="23.90" y1="475.00" x2="643.50" y2="475.00" stroke="#111" stroke-width="1.0"/>
<line x1="23.90" y1="504.40" x2="643.50" y2="504.40" stroke="#111" stroke-width="1.0"/>
<line x1="23.90" y1="524.40" x2="643.50" y2="524.40" stroke="#111" stroke-width="1.0"/>
<line x1="23.90" y1="544.40" x2="643.50" y2="544.40" stroke="#111" stroke-width="1.0"/>
<line x1="23.90" y1="564.40" x2="643.50" y2="564.40" stroke="#111" stroke-width="1.0"/>
<line x1="23.90" y1="584.40" x2="643.50" y2="584.40" stroke="#111" stroke-width="1.0"/>
<line x1="23.90" y1="604.40" x2="643.50" y2="604.40" stroke="#111" stroke-width="1.0"/>
<line x1="23.90" y1="624.40" x2="643.50" y2="624.40" stroke="#111" stroke-width="1.0"/>
<line x1="23.90" y1="644.40" x2="643.50" y2="644.40" stroke="#111" stroke-width="1.0"/>
<line x1="23.90" y1="664.40" x2="643.50" y2="664.40" stroke="#111" stroke-width="1.0"/>
<line x1="23.90" y1="684.40" x2="643.50" y2="684.40" stroke="#111" stroke-width="1.0"/>
<text transform="translate(50.77,487.6) scale(1,1.04)" font-size="10.4" text-anchor="middle" fill="#111" stroke="#111" stroke-width="0.08">IC<tspan font-size="6.9">50</tspan>&#160; ,</text>
<text transform="translate(50.17,500.00) scale(1,1.04)" font-size="10.4" text-anchor="middle" fill="#111" stroke="#111" stroke-width="0.08">(μg/mL)</text>
<text transform="translate(101.72,493.60) scale(1,1.04)" font-size="10.4" text-anchor="middle" fill="#111" stroke="#111" stroke-width="0.08">SA55</text>
<text transform="translate(153.28,493.60) scale(1,1.04)" font-size="10.4" text-anchor="middle" fill="#111" stroke="#111" stroke-width="0.08">S2K146</text>
<text transform="translate(204.83,487.60) scale(1,1.04)" font-size="10.4" text-anchor="middle" fill="#111" stroke="#111" stroke-width="0.08">LY-</text>
<text transform="translate(204.83,500.00) scale(1,1.04)" font-size="10.4" text-anchor="middle" fill="#111" stroke="#111" stroke-width="0.08">CoV1404</text>
<text transform="translate(256.38,487.60) scale(1,1.04)" font-size="10.4" text-anchor="middle" fill="#111" stroke="#111" stroke-width="0.08">COV2-</text>
<text transform="translate(256.38,500.00) scale(1,1.04)" font-size="10.4" text-anchor="middle" fill="#111" stroke="#111" stroke-width="0.08">2130</text>
<text transform="translate(307.93,493.60) scale(1,1.04)" font-size="10.4" text-anchor="middle" fill="#111" stroke="#111" stroke-width="0.08">C118</text>
<text transform="translate(359.48,493.60) scale(1,1.04)" font-size="10.4" text-anchor="middle" fill="#111" stroke="#111" stroke-width="0.08">S309</text>
<text transform="translate(411.03,493.60) scale(1,1.04)" font-size="10.4" text-anchor="middle" fill="#111" stroke="#111" stroke-width="0.08">S2H97</text>
<text transform="translate(462.57,487.60) scale(1,1.04)" font-size="10.4" text-anchor="middle" fill="#111" stroke="#111" stroke-width="0.08">WRAIR-</text>
<text transform="translate(462.57,500.00) scale(1,1.04)" font-size="10.4" text-anchor="middle" fill="#111" stroke="#111" stroke-width="0.08">2057</text>
<text transform="translate(514.12,493.60) scale(1,1.04)" font-size="10.4" text-anchor="middle" fill="#111" stroke="#111" stroke-width="0.08">ION_300</text>
<text transform="translate(565.68,487.60) scale(1,1.04)" font-size="10.4" text-anchor="middle" fill="#111" stroke="#111" stroke-width="0.08">COVOX-</text>
<text transform="translate(565.68,500.00) scale(1,1.04)" font-size="10.4" text-anchor="middle" fill="#111" stroke="#111" stroke-width="0.08">45</text>
<text transform="translate(617.23,487.60) scale(1,1.04)" font-size="10.4" text-anchor="middle" fill="#111" stroke="#111" stroke-width="0.08">N-612-</text>
<text transform="translate(617.23,500.00) scale(1,1.04)" font-size="10.4" text-anchor="middle" fill="#111" stroke="#111" stroke-width="0.08">056</text>
<text transform="translate(50.17,518.90) scale(1,1.04)" font-size="10.4" text-anchor="middle" fill="#111" stroke="#111" stroke-width="0.08">WT</text>
<text transform="translate(101.72,518.90) scale(1,1.04)" font-size="10.4" text-anchor="middle" fill="#111" stroke="#111" stroke-width="0.08">0.007</text>
<text transform="translate(153.28,518.90) scale(1,1.04)" font-size="10.4" text-anchor="middle" fill="#111" stroke="#111" stroke-width="0.08">0.006</text>
<text transform="translate(204.83,518.90) scale(1,1.04)" font-size="10.4" text-anchor="middle" fill="#111" stroke="#111" stroke-width="0.08">0.001</text>
<text transform="translate(256.38,518.90) scale(1,1.04)" font-size="10.4" text-anchor="middle" fill="#111" stroke="#111" stroke-width="0.08">0.004</text>
<text transform="translate(307.93,518.90) scale(1,1.04)" font-size="10.4" text-anchor="middle" fill="#111" stroke="#111" stroke-width="0.08">0.049</text>
<text transform="translate(359.48,518.90) scale(1,1.04)" font-size="10.4" text-anchor="middle" fill="#111" stroke="#111" stroke-width="0.08">0.126</text>
<text transform="translate(411.03,518.90) scale(1,1.04)" font-size="10.4" text-anchor="middle" fill="#111" stroke="#111" stroke-width="0.08">0.649</text>
<text transform="translate(462.57,518.90) scale(1,1.04)" font-size="10.4" text-anchor="middle" fill="#111" stroke="#111" stroke-width="0.08">0.785</text>
<text transform="translate(514.12,518.90) scale(1,1.04)" font-size="10.4" text-anchor="middle" fill="#111" stroke="#111" stroke-width="0.08">0.735</text>
<text transform="translate(565.68,518.90) scale(1,1.04)" font-size="10.4" text-anchor="middle" fill="#111" stroke="#111" stroke-width="0.08">0.525</text>
<text transform="translate(617.23,518.90) scale(1,1.04)" font-size="10.4" text-anchor="middle" fill="#111" stroke="#111" stroke-width="0.08">0.812</text>
<text transform="translate(50.17,538.90) scale(1,1.04)" font-size="10.4" text-anchor="middle" fill="#111" stroke="#111" stroke-width="0.08">BA.2</text>
<text transform="translate(101.72,538.90) scale(1,1.04)" font-size="10.4" text-anchor="middle" fill="#111" stroke="#111" stroke-width="0.08">0.010</text>
<text transform="translate(153.28,538.90) scale(1,1.04)" font-size="10.4" text-anchor="middle" fill="#111" stroke="#111" stroke-width="0.08">0.027</text>
<text transform="translate(204.83,538.90) scale(1,1.04)" font-size="10.4" text-anchor="middle" fill="#111" stroke="#111" stroke-width="0.08">0.002</text>
<text transform="translate(256.38,538.90) scale(1,1.04)" font-size="10.4" text-anchor="middle" fill="#111" stroke="#111" stroke-width="0.08">0.004</text>
<text transform="translate(307.93,538.90) scale(1,1.04)" font-size="10.4" text-anchor="middle" fill="#111" stroke="#111" stroke-width="0.08">3.326</text>
<text transform="translate(359.48,538.90) scale(1,1.04)" font-size="10.4" text-anchor="middle" fill="#111" stroke="#111" stroke-width="0.08">0.467</text>
<text transform="translate(411.03,538.90) scale(1,1.04)" font-size="10.4" text-anchor="middle" fill="#111" stroke="#111" stroke-width="0.08">1.146</text>
<text transform="translate(462.57,538.90) scale(1,1.04)" font-size="10.4" text-anchor="middle" fill="#111" stroke="#111" stroke-width="0.08">3.295</text>
<text transform="translate(514.12,538.90) scale(1,1.04)" font-size="10.4" text-anchor="middle" fill="#111" stroke="#111" stroke-width="0.08">3.838</text>
<text transform="translate(565.68,538.90) scale(1,1.04)" font-size="10.4" text-anchor="middle" fill="#111" stroke="#111" stroke-width="0.08">3.535</text>
<text transform="translate(617.23,538.90) scale(1,1.04)" font-size="10.4" text-anchor="middle" fill="#111" stroke="#111" stroke-width="0.08">8.400</text>
<text transform="translate(50.17,558.90) scale(1,1.04)" font-size="10.4" text-anchor="middle" fill="#111" stroke="#111" stroke-width="0.08">XBB.1.5</text>
<text transform="translate(101.72,558.90) scale(1,1.04)" font-size="10.4" text-anchor="middle" fill="#111" stroke="#111" stroke-width="0.08">0.036</text>
<text transform="translate(153.28,558.90) scale(1,1.04)" font-size="10.4" text-anchor="middle" fill="#111" stroke="#111" stroke-width="0.08">1.019</text>
<text transform="translate(204.83,558.90) scale(1,1.04)" font-size="10.4" text-anchor="middle" fill="#111" stroke="#111" stroke-width="0.08">&gt;50</text>
<text transform="translate(256.38,558.90) scale(1,1.04)" font-size="10.4" text-anchor="middle" fill="#111" stroke="#111" stroke-width="0.08">&gt;50</text>
<text transform="translate(307.93,558.90) scale(1,1.04)" font-size="10.4" text-anchor="middle" fill="#111" stroke="#111" stroke-width="0.08">1.673</text>
<text transform="translate(359.48,558.90) scale(1,1.04)" font-size="10.4" text-anchor="middle" fill="#111" stroke="#111" stroke-width="0.08">0.399</text>
<text transform="translate(411.03,558.90) scale(1,1.04)" font-size="10.4" text-anchor="middle" fill="#111" stroke="#111" stroke-width="0.08">0.686</text>
<text transform="translate(462.57,558.90) scale(1,1.04)" font-size="10.4" text-anchor="middle" fill="#111" stroke="#111" stroke-width="0.08">2.563</text>
<text transform="translate(514.12,558.90) scale(1,1.04)" font-size="10.4" text-anchor="middle" fill="#111" stroke="#111" stroke-width="0.08">1.207</text>
<text transform="translate(565.68,558.90) scale(1,1.04)" font-size="10.4" text-anchor="middle" fill="#111" stroke="#111" stroke-width="0.08">3.470</text>
<text transform="translate(617.23,558.90) scale(1,1.04)" font-size="10.4" text-anchor="middle" fill="#111" stroke="#111" stroke-width="0.08">31.169</text>
<text transform="translate(50.17,578.90) scale(1,1.04)" font-size="10.4" text-anchor="middle" fill="#111" stroke="#111" stroke-width="0.08">EG.5.1</text>
<text transform="translate(101.72,578.90) scale(1,1.04)" font-size="10.4" text-anchor="middle" fill="#111" stroke="#111" stroke-width="0.08">0.016</text>
<text transform="translate(153.28,578.90) scale(1,1.04)" font-size="10.4" text-anchor="middle" fill="#111" stroke="#111" stroke-width="0.08">0.663</text>
<text transform="translate(204.83,578.90) scale(1,1.04)" font-size="10.4" text-anchor="middle" fill="#111" stroke="#111" stroke-width="0.08">&gt;50</text>
<text transform="translate(256.38,578.90) scale(1,1.04)" font-size="10.4" text-anchor="middle" fill="#111" stroke="#111" stroke-width="0.08">&gt;50</text>
<text transform="translate(307.93,578.90) scale(1,1.04)" font-size="10.4" text-anchor="middle" fill="#111" stroke="#111" stroke-width="0.08">2.262</text>
<text transform="translate(359.48,578.90) scale(1,1.04)" font-size="10.4" text-anchor="middle" fill="#111" stroke="#111" stroke-width="0.08">0.336</text>
<text transform="translate(411.03,578.90) scale(1,1.04)" font-size="10.4" text-anchor="middle" fill="#111" stroke="#111" stroke-width="0.08">0.924</text>
<text transform="translate(462.57,578.90) scale(1,1.04)" font-size="10.4" text-anchor="middle" fill="#111" stroke="#111" stroke-width="0.08">3.372</text>
<text transform="translate(514.12,578.90) scale(1,1.04)" font-size="10.4" text-anchor="middle" fill="#111" stroke="#111" stroke-width="0.08">1.105</text>
<text transform="translate(565.68,578.90) scale(1,1.04)" font-size="10.4" text-anchor="middle" fill="#111" stroke="#111" stroke-width="0.08">4.850</text>
<text transform="translate(617.23,578.90) scale(1,1.04)" font-size="10.4" text-anchor="middle" fill="#111" stroke="#111" stroke-width="0.08">12.874</text>
<text transform="translate(50.17,598.90) scale(1,1.04)" font-size="10.4" text-anchor="middle" fill="#111" stroke="#111" stroke-width="0.08">HK.3</text>
<text transform="translate(101.72,598.90) scale(1,1.04)" font-size="10.4" text-anchor="middle" fill="#111" stroke="#111" stroke-width="0.08">0.032</text>
<text transform="translate(153.28,598.90) scale(1,1.04)" font-size="10.4" text-anchor="middle" fill="#111" stroke="#111" stroke-width="0.08">4.147</text>
<text transform="translate(204.83,598.90) scale(1,1.04)" font-size="10.4" text-anchor="middle" fill="#111" stroke="#111" stroke-width="0.08">&gt;50</text>
<text transform="translate(256.38,598.90) scale(1,1.04)" font-size="10.4" text-anchor="middle" fill="#111" stroke="#111" stroke-width="0.08">&gt;50</text>
<text transform="translate(307.93,598.90) scale(1,1.04)" font-size="10.4" text-anchor="middle" fill="#111" stroke="#111" stroke-width="0.08">2.521</text>
<text transform="translate(359.48,598.90) scale(1,1.04)" font-size="10.4" text-anchor="middle" fill="#111" stroke="#111" stroke-width="0.08">0.457</text>
<text transform="translate(411.03,598.90) scale(1,1.04)" font-size="10.4" text-anchor="middle" fill="#111" stroke="#111" stroke-width="0.08">1.539</text>
<text transform="translate(462.57,598.90) scale(1,1.04)" font-size="10.4" text-anchor="middle" fill="#111" stroke="#111" stroke-width="0.08">3.555</text>
<text transform="translate(514.12,598.90) scale(1,1.04)" font-size="10.4" text-anchor="middle" fill="#111" stroke="#111" stroke-width="0.08">2.439</text>
<text transform="translate(565.68,598.90) scale(1,1.04)" font-size="10.4" text-anchor="middle" fill="#111" stroke="#111" stroke-width="0.08">5.968</text>
<text transform="translate(617.23,598.90) scale(1,1.04)" font-size="10.4" text-anchor="middle" fill="#111" stroke="#111" stroke-width="0.08">31.453</text>
<text transform="translate(50.17,618.90) scale(1,1.04)" font-size="10.4" text-anchor="middle" fill="#111" stroke="#111" stroke-width="0.08">BA.2.86</text>
<text transform="translate(101.72,618.90) scale(1,1.04)" font-size="10.4" text-anchor="middle" fill="#111" stroke="#111" stroke-width="0.08">0.006</text>
<text transform="translate(153.28,618.90) scale(1,1.04)" font-size="10.4" text-anchor="middle" fill="#111" stroke="#111" stroke-width="0.08">&gt;50</text>
<text transform="translate(204.83,618.90) scale(1,1.04)" font-size="10.4" text-anchor="middle" fill="#111" stroke="#111" stroke-width="0.08">&gt;50</text>
<text transform="translate(256.38,618.90) scale(1,1.04)" font-size="10.4" text-anchor="middle" fill="#111" stroke="#111" stroke-width="0.08">&gt;50</text>
<text transform="translate(307.93,618.90) scale(1,1.04)" font-size="10.4" text-anchor="middle" fill="#111" stroke="#111" stroke-width="0.08">0.473</text>
<text transform="translate(359.48,618.90) scale(1,1.04)" font-size="10.4" text-anchor="middle" fill="#111" stroke="#111" stroke-width="0.08">4.925</text>
<text transform="translate(411.03,618.90) scale(1,1.04)" font-size="10.4" text-anchor="middle" fill="#111" stroke="#111" stroke-width="0.08">0.224</text>
<text transform="translate(462.57,618.90) scale(1,1.04)" font-size="10.4" text-anchor="middle" fill="#111" stroke="#111" stroke-width="0.08">9.459</text>
<text transform="translate(514.12,618.90) scale(1,1.04)" font-size="10.4" text-anchor="middle" fill="#111" stroke="#111" stroke-width="0.08">0.343</text>
<text transform="translate(565.68,618.90) scale(1,1.04)" font-size="10.4" text-anchor="middle" fill="#111" stroke="#111" stroke-width="0.08">&gt;50</text>
<text transform="translate(617.23,618.90) scale(1,1.04)" font-size="10.4" text-anchor="middle" fill="#111" stroke="#111" stroke-width="0.08">&gt;50</text>
<text transform="translate(50.17,638.90) scale(1,1.04)" font-size="10.4" text-anchor="middle" fill="#111" stroke="#111" stroke-width="0.08">JN.1</text>
<text transform="translate(101.72,638.90) scale(1,1.04)" font-size="10.4" text-anchor="middle" fill="#111" stroke="#111" stroke-width="0.08">0.002</text>
<text transform="translate(153.28,638.90) scale(1,1.04)" font-size="10.4" text-anchor="middle" fill="#111" stroke="#111" stroke-width="0.08">&gt;50</text>
<text transform="translate(204.83,638.90) scale(1,1.04)" font-size="10.4" text-anchor="middle" fill="#111" stroke="#111" stroke-width="0.08">&gt;50</text>
<text transform="translate(256.38,638.90) scale(1,1.04)" font-size="10.4" text-anchor="middle" fill="#111" stroke="#111" stroke-width="0.08">&gt;50</text>
<text transform="translate(307.93,638.90) scale(1,1.04)" font-size="10.4" text-anchor="middle" fill="#111" stroke="#111" stroke-width="0.08">0.591</text>
<text transform="translate(359.48,638.90) scale(1,1.04)" font-size="10.4" text-anchor="middle" fill="#111" stroke="#111" stroke-width="0.08">11.742</text>
<text transform="translate(411.03,638.90) scale(1,1.04)" font-size="10.4" text-anchor="middle" fill="#111" stroke="#111" stroke-width="0.08">0.286</text>
<text transform="translate(462.57,638.90) scale(1,1.04)" font-size="10.4" text-anchor="middle" fill="#111" stroke="#111" stroke-width="0.08">21.467</text>
<text transform="translate(514.12,638.90) scale(1,1.04)" font-size="10.4" text-anchor="middle" fill="#111" stroke="#111" stroke-width="0.08">0.663</text>
<text transform="translate(565.68,638.90) scale(1,1.04)" font-size="10.4" text-anchor="middle" fill="#111" stroke="#111" stroke-width="0.08">&gt;50</text>
<text transform="translate(617.23,638.90) scale(1,1.04)" font-size="10.4" text-anchor="middle" fill="#111" stroke="#111" stroke-width="0.08">&gt;50</text>
<text transform="translate(50.17,658.90) scale(1,1.04)" font-size="10.4" text-anchor="middle" fill="#111" stroke="#111" stroke-width="0.08">Breadth</text>
<text transform="translate(101.72,658.90) scale(1,1.04)" font-size="10.4" text-anchor="middle" fill="#111" stroke="#111" stroke-width="0.08">100%</text>
<text transform="translate(153.28,658.90) scale(1,1.04)" font-size="10.4" text-anchor="middle" fill="#111" stroke="#111" stroke-width="0.08">71%</text>
<text transform="translate(204.83,658.90) scale(1,1.04)" font-size="10.4" text-anchor="middle" fill="#111" stroke="#111" stroke-width="0.08">29%</text>
<text transform="translate(256.38,658.90) scale(1,1.04)" font-size="10.4" text-anchor="middle" fill="#111" stroke="#111" stroke-width="0.08">29%</text>
<text transform="translate(307.93,658.90) scale(1,1.04)" font-size="10.4" text-anchor="middle" fill="#111" stroke="#111" stroke-width="0.08">100%</text>
<text transform="translate(359.48,658.90) scale(1,1.04)" font-size="10.4" text-anchor="middle" fill="#111" stroke="#111" stroke-width="0.08">100%</text>
<text transform="translate(411.03,658.90) scale(1,1.04)" font-size="10.4" text-anchor="middle" fill="#111" stroke="#111" stroke-width="0.08">100%</text>
<text transform="translate(462.57,658.90) scale(1,1.04)" font-size="10.4" text-anchor="middle" fill="#111" stroke="#111" stroke-width="0.08">100%</text>
<text transform="translate(514.12,658.90) scale(1,1.04)" font-size="10.4" text-anchor="middle" fill="#111" stroke="#111" stroke-width="0.08">100%</text>
<text transform="translate(565.68,658.90) scale(1,1.04)" font-size="10.4" text-anchor="middle" fill="#111" stroke="#111" stroke-width="0.08">71%</text>
<text transform="translate(617.23,658.90) scale(1,1.04)" font-size="10.4" text-anchor="middle" fill="#111" stroke="#111" stroke-width="0.08">71%</text>
<text transform="translate(50.17,678.90) scale(1,1.04)" font-size="10.4" text-anchor="middle" fill="#111" stroke="#111" stroke-width="0.08">Potency</text>
<text transform="translate(101.72,678.90) scale(1,1.04)" font-size="10.4" text-anchor="middle" fill="#111" stroke="#111" stroke-width="0.08">0.011</text>
<text transform="translate(153.28,678.90) scale(1,1.04)" font-size="10.4" text-anchor="middle" fill="#111" stroke="#111" stroke-width="0.08">0.213</text>
<text transform="translate(204.83,678.90) scale(1,1.04)" font-size="10.4" text-anchor="middle" fill="#111" stroke="#111" stroke-width="0.08">0.001</text>
<text transform="translate(256.38,678.90) scale(1,1.04)" font-size="10.4" text-anchor="middle" fill="#111" stroke="#111" stroke-width="0.08">0.004</text>
<text transform="translate(307.93,678.90) scale(1,1.04)" font-size="10.4" text-anchor="middle" fill="#111" stroke="#111" stroke-width="0.08">0.888</text>
<text transform="translate(359.48,678.90) scale(1,1.04)" font-size="10.4" text-anchor="middle" fill="#111" stroke="#111" stroke-width="0.08">0.799</text>
<text transform="translate(411.03,678.90) scale(1,1.04)" font-size="10.4" text-anchor="middle" fill="#111" stroke="#111" stroke-width="0.08">0.645</text>
<text transform="translate(462.57,678.90) scale(1,1.04)" font-size="10.4" text-anchor="middle" fill="#111" stroke="#111" stroke-width="0.08">3.991</text>
<text transform="translate(514.12,678.90) scale(1,1.04)" font-size="10.4" text-anchor="middle" fill="#111" stroke="#111" stroke-width="0.08">1.111</text>
<text transform="translate(565.68,678.90) scale(1,1.04)" font-size="10.4" text-anchor="middle" fill="#111" stroke="#111" stroke-width="0.08">2.845</text>
<text transform="translate(617.23,678.90) scale(1,1.04)" font-size="10.4" text-anchor="middle" fill="#111" stroke="#111" stroke-width="0.08">9.705</text>
</svg></body></html>
